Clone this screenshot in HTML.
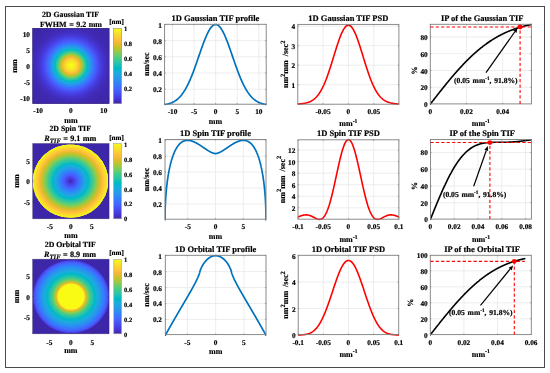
<!DOCTYPE html><html><head><meta charset="utf-8"><title>TIF figure</title><style>html,body{margin:0;padding:0;background:#fff;width:550px;height:373px;overflow:hidden;}text{text-rendering:geometricPrecision;font-family:'Liberation Serif',serif;font-weight:bold;stroke:#000;stroke-width:0.18px;}</style></head><body><svg width="550" height="373" viewBox="0 0 550 373" style="display:block;will-change:transform;font-family:'Liberation Serif',serif;font-weight:bold" fill="#000"><defs>
<radialGradient id="g1" gradientUnits="userSpaceOnUse" cx="0" cy="0" r="20" gradientTransform="translate(71.1 65.5) scale(3.406 3.3280000000000003)"><stop offset="0.0000" stop-color="#f9fb15"/><stop offset="0.0084" stop-color="#f9fb15"/><stop offset="0.0168" stop-color="#f9fa16"/><stop offset="0.0252" stop-color="#f8f818"/><stop offset="0.0336" stop-color="#f7f51b"/><stop offset="0.0420" stop-color="#f6f21d"/><stop offset="0.0504" stop-color="#f5ef21"/><stop offset="0.0588" stop-color="#f5ea23"/><stop offset="0.0672" stop-color="#f5e526"/><stop offset="0.0756" stop-color="#f6df29"/><stop offset="0.0840" stop-color="#f8d92c"/><stop offset="0.0924" stop-color="#fbd22f"/><stop offset="0.1008" stop-color="#feca33"/><stop offset="0.1092" stop-color="#fec339"/><stop offset="0.1176" stop-color="#fbbc3d"/><stop offset="0.1261" stop-color="#f1ba37"/><stop offset="0.1345" stop-color="#e3bb2c"/><stop offset="0.1429" stop-color="#d4bf27"/><stop offset="0.1513" stop-color="#c1c32c"/><stop offset="0.1597" stop-color="#adc638"/><stop offset="0.1681" stop-color="#96ca48"/><stop offset="0.1765" stop-color="#7fcc5a"/><stop offset="0.1849" stop-color="#67cd6c"/><stop offset="0.1933" stop-color="#52cc7e"/><stop offset="0.2017" stop-color="#3fca8e"/><stop offset="0.2101" stop-color="#33c79d"/><stop offset="0.2185" stop-color="#29c3a9"/><stop offset="0.2269" stop-color="#1abfb5"/><stop offset="0.2353" stop-color="#06bcc0"/><stop offset="0.2437" stop-color="#01b7ca"/><stop offset="0.2521" stop-color="#0eb3d4"/><stop offset="0.2605" stop-color="#19addc"/><stop offset="0.2689" stop-color="#1ea7e1"/><stop offset="0.2773" stop-color="#23a0e5"/><stop offset="0.2857" stop-color="#2699e9"/><stop offset="0.2941" stop-color="#2a93ee"/><stop offset="0.3025" stop-color="#2d8cf3"/><stop offset="0.3109" stop-color="#2e86f8"/><stop offset="0.3193" stop-color="#307ffb"/><stop offset="0.3277" stop-color="#3678fd"/><stop offset="0.3361" stop-color="#3c71ff"/><stop offset="0.3445" stop-color="#416bfe"/><stop offset="0.3529" stop-color="#4465fd"/><stop offset="0.3613" stop-color="#4660fb"/><stop offset="0.3697" stop-color="#475bf9"/><stop offset="0.3782" stop-color="#4756f7"/><stop offset="0.3866" stop-color="#4852f4"/><stop offset="0.3950" stop-color="#484ef1"/><stop offset="0.4034" stop-color="#484aed"/><stop offset="0.4118" stop-color="#4746ea"/><stop offset="0.4202" stop-color="#4743e7"/><stop offset="0.4286" stop-color="#473fe3"/><stop offset="0.4370" stop-color="#463ddf"/><stop offset="0.4454" stop-color="#463adb"/><stop offset="0.4538" stop-color="#4538d7"/><stop offset="0.4622" stop-color="#4536d4"/><stop offset="0.4706" stop-color="#4434d0"/><stop offset="0.4790" stop-color="#4433cc"/><stop offset="0.4874" stop-color="#4332c9"/><stop offset="0.4958" stop-color="#4330c5"/><stop offset="0.5042" stop-color="#422fc2"/><stop offset="0.5126" stop-color="#422ec0"/><stop offset="0.5210" stop-color="#412dbd"/><stop offset="0.5294" stop-color="#412dbb"/><stop offset="0.5378" stop-color="#412cb9"/><stop offset="0.5462" stop-color="#402bb7"/><stop offset="0.5546" stop-color="#402bb6"/><stop offset="0.5630" stop-color="#402ab4"/><stop offset="0.5714" stop-color="#402ab3"/><stop offset="0.5798" stop-color="#3f29b2"/><stop offset="0.5882" stop-color="#3f29b1"/><stop offset="0.5966" stop-color="#3f29b0"/><stop offset="0.6050" stop-color="#3f28af"/><stop offset="0.6134" stop-color="#3f28ae"/><stop offset="0.6218" stop-color="#3f28ad"/><stop offset="0.6303" stop-color="#3e28ad"/><stop offset="0.6387" stop-color="#3e27ac"/><stop offset="0.6471" stop-color="#3e27ac"/><stop offset="0.6555" stop-color="#3e27ab"/><stop offset="0.6639" stop-color="#3e27ab"/><stop offset="0.6723" stop-color="#3e27aa"/><stop offset="0.6807" stop-color="#3e27aa"/><stop offset="0.6891" stop-color="#3e27aa"/><stop offset="0.6975" stop-color="#3e27aa"/><stop offset="0.7059" stop-color="#3e27a9"/><stop offset="0.7143" stop-color="#3e27a9"/><stop offset="0.7227" stop-color="#3e27a9"/><stop offset="0.7311" stop-color="#3e27a9"/><stop offset="0.7395" stop-color="#3e27a9"/><stop offset="0.7479" stop-color="#3e27a9"/><stop offset="0.7563" stop-color="#3e26a9"/><stop offset="0.7647" stop-color="#3e26a9"/><stop offset="0.7731" stop-color="#3e26a9"/><stop offset="0.7815" stop-color="#3e26a9"/><stop offset="0.7899" stop-color="#3e26a9"/><stop offset="0.7983" stop-color="#3e26a9"/><stop offset="0.8067" stop-color="#3e26a9"/><stop offset="0.8151" stop-color="#3e26a9"/><stop offset="0.8235" stop-color="#3e26a8"/><stop offset="0.8319" stop-color="#3e26a8"/><stop offset="0.8403" stop-color="#3e26a8"/><stop offset="0.8487" stop-color="#3e26a8"/><stop offset="0.8571" stop-color="#3e26a8"/><stop offset="0.8655" stop-color="#3e26a8"/><stop offset="0.8739" stop-color="#3e26a8"/><stop offset="0.8824" stop-color="#3e26a8"/><stop offset="0.8908" stop-color="#3e26a8"/><stop offset="0.8992" stop-color="#3e26a8"/><stop offset="0.9076" stop-color="#3e26a8"/><stop offset="0.9160" stop-color="#3e26a8"/><stop offset="0.9244" stop-color="#3e26a8"/><stop offset="0.9328" stop-color="#3e26a8"/><stop offset="0.9412" stop-color="#3e26a8"/><stop offset="0.9496" stop-color="#3e26a8"/><stop offset="0.9580" stop-color="#3e26a8"/><stop offset="0.9664" stop-color="#3e26a8"/><stop offset="0.9748" stop-color="#3e26a8"/><stop offset="0.9832" stop-color="#3e26a8"/><stop offset="0.9916" stop-color="#3e26a8"/><stop offset="1.0000" stop-color="#3e26a8"/></radialGradient>
<radialGradient id="g5" gradientUnits="userSpaceOnUse" cx="0" cy="0" r="14" gradientTransform="translate(70.5 181.15) scale(4.175824175824176 4.054945054945055)"><stop offset="0.0000" stop-color="#3e26a8"/><stop offset="0.0084" stop-color="#3f29b2"/><stop offset="0.0168" stop-color="#412dbb"/><stop offset="0.0252" stop-color="#4330c5"/><stop offset="0.0336" stop-color="#4434cd"/><stop offset="0.0420" stop-color="#4537d6"/><stop offset="0.0504" stop-color="#463bdd"/><stop offset="0.0588" stop-color="#4740e3"/><stop offset="0.0672" stop-color="#4744e8"/><stop offset="0.0756" stop-color="#4849ed"/><stop offset="0.0840" stop-color="#484df1"/><stop offset="0.0924" stop-color="#4852f4"/><stop offset="0.1008" stop-color="#4757f7"/><stop offset="0.1092" stop-color="#475bf9"/><stop offset="0.1176" stop-color="#4660fb"/><stop offset="0.1261" stop-color="#4465fd"/><stop offset="0.1345" stop-color="#4269fe"/><stop offset="0.1429" stop-color="#3f6eff"/><stop offset="0.1513" stop-color="#3a73fe"/><stop offset="0.1597" stop-color="#3578fd"/><stop offset="0.1681" stop-color="#317dfc"/><stop offset="0.1765" stop-color="#2f82fa"/><stop offset="0.1849" stop-color="#2e86f7"/><stop offset="0.1933" stop-color="#2d8bf4"/><stop offset="0.2017" stop-color="#2c8ff1"/><stop offset="0.2101" stop-color="#2a93ed"/><stop offset="0.2185" stop-color="#2797ea"/><stop offset="0.2269" stop-color="#259be8"/><stop offset="0.2353" stop-color="#249fe5"/><stop offset="0.2437" stop-color="#21a3e3"/><stop offset="0.2521" stop-color="#1ea7e1"/><stop offset="0.2605" stop-color="#1baade"/><stop offset="0.2689" stop-color="#18aedb"/><stop offset="0.2773" stop-color="#12b1d7"/><stop offset="0.2857" stop-color="#0bb4d2"/><stop offset="0.2941" stop-color="#04b6cd"/><stop offset="0.3025" stop-color="#01b9c8"/><stop offset="0.3109" stop-color="#03bbc2"/><stop offset="0.3193" stop-color="#0bbdbd"/><stop offset="0.3277" stop-color="#15bfb7"/><stop offset="0.3361" stop-color="#1fc0b1"/><stop offset="0.3445" stop-color="#27c2ac"/><stop offset="0.3529" stop-color="#2dc4a6"/><stop offset="0.3613" stop-color="#32c69f"/><stop offset="0.3697" stop-color="#36c898"/><stop offset="0.3782" stop-color="#3cc991"/><stop offset="0.3866" stop-color="#44cb89"/><stop offset="0.3950" stop-color="#4ecc81"/><stop offset="0.4034" stop-color="#58cc79"/><stop offset="0.4118" stop-color="#63cd70"/><stop offset="0.4202" stop-color="#6ecd67"/><stop offset="0.4286" stop-color="#7acc5e"/><stop offset="0.4370" stop-color="#86cb55"/><stop offset="0.4454" stop-color="#92ca4c"/><stop offset="0.4538" stop-color="#9dc943"/><stop offset="0.4622" stop-color="#a9c73b"/><stop offset="0.4706" stop-color="#b3c534"/><stop offset="0.4790" stop-color="#bec32e"/><stop offset="0.4874" stop-color="#c8c129"/><stop offset="0.4958" stop-color="#d2bf27"/><stop offset="0.5042" stop-color="#dbbd28"/><stop offset="0.5126" stop-color="#e3bc2c"/><stop offset="0.5210" stop-color="#ebba31"/><stop offset="0.5294" stop-color="#f2ba38"/><stop offset="0.5378" stop-color="#f9bb3d"/><stop offset="0.5462" stop-color="#febd3c"/><stop offset="0.5546" stop-color="#fec239"/><stop offset="0.5630" stop-color="#fec736"/><stop offset="0.5714" stop-color="#fdcc32"/><stop offset="0.5798" stop-color="#fcd12f"/><stop offset="0.5882" stop-color="#fad62d"/><stop offset="0.5966" stop-color="#f7db2a"/><stop offset="0.6050" stop-color="#f6e028"/><stop offset="0.6134" stop-color="#f5e626"/><stop offset="0.6218" stop-color="#f5eb23"/><stop offset="0.6303" stop-color="#f6f020"/><stop offset="0.6387" stop-color="#f7f41c"/><stop offset="0.6471" stop-color="#f9f916"/><stop offset="0.6499" stop-color="#f9fb15"/><stop offset="0.6501" stop-color="#3e26a8"/><stop offset="0.6555" stop-color="#3e26a8"/><stop offset="0.6639" stop-color="#3e26a8"/><stop offset="0.6723" stop-color="#3e26a8"/><stop offset="0.6807" stop-color="#3e26a8"/><stop offset="0.6891" stop-color="#3e26a8"/><stop offset="0.6975" stop-color="#3e26a8"/><stop offset="0.7059" stop-color="#3e26a8"/><stop offset="0.7143" stop-color="#3e26a8"/><stop offset="0.7227" stop-color="#3e26a8"/><stop offset="0.7311" stop-color="#3e26a8"/><stop offset="0.7395" stop-color="#3e26a8"/><stop offset="0.7479" stop-color="#3e26a8"/><stop offset="0.7563" stop-color="#3e26a8"/><stop offset="0.7647" stop-color="#3e26a8"/><stop offset="0.7731" stop-color="#3e26a8"/><stop offset="0.7815" stop-color="#3e26a8"/><stop offset="0.7899" stop-color="#3e26a8"/><stop offset="0.7983" stop-color="#3e26a8"/><stop offset="0.8067" stop-color="#3e26a8"/><stop offset="0.8151" stop-color="#3e26a8"/><stop offset="0.8235" stop-color="#3e26a8"/><stop offset="0.8319" stop-color="#3e26a8"/><stop offset="0.8403" stop-color="#3e26a8"/><stop offset="0.8487" stop-color="#3e26a8"/><stop offset="0.8571" stop-color="#3e26a8"/><stop offset="0.8655" stop-color="#3e26a8"/><stop offset="0.8739" stop-color="#3e26a8"/><stop offset="0.8824" stop-color="#3e26a8"/><stop offset="0.8908" stop-color="#3e26a8"/><stop offset="0.8992" stop-color="#3e26a8"/><stop offset="0.9076" stop-color="#3e26a8"/><stop offset="0.9160" stop-color="#3e26a8"/><stop offset="0.9244" stop-color="#3e26a8"/><stop offset="0.9328" stop-color="#3e26a8"/><stop offset="0.9412" stop-color="#3e26a8"/><stop offset="0.9496" stop-color="#3e26a8"/><stop offset="0.9580" stop-color="#3e26a8"/><stop offset="0.9664" stop-color="#3e26a8"/><stop offset="0.9748" stop-color="#3e26a8"/><stop offset="0.9832" stop-color="#3e26a8"/><stop offset="0.9916" stop-color="#3e26a8"/><stop offset="1.0000" stop-color="#3e26a8"/></radialGradient>
<radialGradient id="g9" gradientUnits="userSpaceOnUse" cx="0" cy="0" r="14" gradientTransform="translate(71.1 296.7) scale(4.3 4.12)"><stop offset="0.0000" stop-color="#f9fb15"/><stop offset="0.0084" stop-color="#f9fb15"/><stop offset="0.0168" stop-color="#f9fb15"/><stop offset="0.0252" stop-color="#f9fb15"/><stop offset="0.0336" stop-color="#f9fb15"/><stop offset="0.0420" stop-color="#f9fb15"/><stop offset="0.0504" stop-color="#f9fb15"/><stop offset="0.0588" stop-color="#f9fb15"/><stop offset="0.0672" stop-color="#f9fb15"/><stop offset="0.0756" stop-color="#f9fb15"/><stop offset="0.0840" stop-color="#f9fb15"/><stop offset="0.0924" stop-color="#f9fb15"/><stop offset="0.1008" stop-color="#f9fb15"/><stop offset="0.1092" stop-color="#f9fb15"/><stop offset="0.1176" stop-color="#f9fb15"/><stop offset="0.1261" stop-color="#f9fb15"/><stop offset="0.1345" stop-color="#f9fb15"/><stop offset="0.1429" stop-color="#f9fb15"/><stop offset="0.1513" stop-color="#f9fb15"/><stop offset="0.1597" stop-color="#f9fb15"/><stop offset="0.1681" stop-color="#f9fb15"/><stop offset="0.1765" stop-color="#f9fb15"/><stop offset="0.1849" stop-color="#f9fb15"/><stop offset="0.1933" stop-color="#f9fb15"/><stop offset="0.2017" stop-color="#f9fb15"/><stop offset="0.2101" stop-color="#f9fb15"/><stop offset="0.2185" stop-color="#f9fb15"/><stop offset="0.2269" stop-color="#fbd32e"/><stop offset="0.2353" stop-color="#fdbd3d"/><stop offset="0.2437" stop-color="#e9bb30"/><stop offset="0.2521" stop-color="#d3bf27"/><stop offset="0.2605" stop-color="#bdc32e"/><stop offset="0.2689" stop-color="#a8c73b"/><stop offset="0.2773" stop-color="#94ca4a"/><stop offset="0.2857" stop-color="#80cc59"/><stop offset="0.2941" stop-color="#6ecd66"/><stop offset="0.3025" stop-color="#5fcd73"/><stop offset="0.3109" stop-color="#51cc7f"/><stop offset="0.3193" stop-color="#44cb89"/><stop offset="0.3277" stop-color="#3bc993"/><stop offset="0.3361" stop-color="#34c79b"/><stop offset="0.3445" stop-color="#2fc5a2"/><stop offset="0.3529" stop-color="#2ac3a9"/><stop offset="0.3613" stop-color="#22c1af"/><stop offset="0.3697" stop-color="#19bfb5"/><stop offset="0.3782" stop-color="#0ebdbb"/><stop offset="0.3866" stop-color="#06bcc1"/><stop offset="0.3950" stop-color="#01b9c6"/><stop offset="0.4034" stop-color="#02b7cb"/><stop offset="0.4118" stop-color="#07b5d0"/><stop offset="0.4202" stop-color="#0eb2d4"/><stop offset="0.4286" stop-color="#14b0d8"/><stop offset="0.4370" stop-color="#19addc"/><stop offset="0.4454" stop-color="#1caadf"/><stop offset="0.4538" stop-color="#1ea7e1"/><stop offset="0.4622" stop-color="#21a3e3"/><stop offset="0.4706" stop-color="#23a0e5"/><stop offset="0.4790" stop-color="#259ce7"/><stop offset="0.4874" stop-color="#2699e9"/><stop offset="0.4958" stop-color="#2895ec"/><stop offset="0.5042" stop-color="#2b91ef"/><stop offset="0.5126" stop-color="#2d8df2"/><stop offset="0.5210" stop-color="#2d89f5"/><stop offset="0.5294" stop-color="#2e85f8"/><stop offset="0.5378" stop-color="#2f81fa"/><stop offset="0.5462" stop-color="#327cfc"/><stop offset="0.5546" stop-color="#3777fe"/><stop offset="0.5630" stop-color="#3c71ff"/><stop offset="0.5714" stop-color="#416cfe"/><stop offset="0.5798" stop-color="#4466fd"/><stop offset="0.5882" stop-color="#4660fb"/><stop offset="0.5966" stop-color="#475af9"/><stop offset="0.6050" stop-color="#4853f5"/><stop offset="0.6134" stop-color="#484bef"/><stop offset="0.6218" stop-color="#4742e6"/><stop offset="0.6303" stop-color="#4536d3"/><stop offset="0.6387" stop-color="#3e26a8"/><stop offset="0.6471" stop-color="#3e26a8"/><stop offset="0.6555" stop-color="#3e26a8"/><stop offset="0.6639" stop-color="#3e26a8"/><stop offset="0.6723" stop-color="#3e26a8"/><stop offset="0.6807" stop-color="#3e26a8"/><stop offset="0.6891" stop-color="#3e26a8"/><stop offset="0.6975" stop-color="#3e26a8"/><stop offset="0.7059" stop-color="#3e26a8"/><stop offset="0.7143" stop-color="#3e26a8"/><stop offset="0.7227" stop-color="#3e26a8"/><stop offset="0.7311" stop-color="#3e26a8"/><stop offset="0.7395" stop-color="#3e26a8"/><stop offset="0.7479" stop-color="#3e26a8"/><stop offset="0.7563" stop-color="#3e26a8"/><stop offset="0.7647" stop-color="#3e26a8"/><stop offset="0.7731" stop-color="#3e26a8"/><stop offset="0.7815" stop-color="#3e26a8"/><stop offset="0.7899" stop-color="#3e26a8"/><stop offset="0.7983" stop-color="#3e26a8"/><stop offset="0.8067" stop-color="#3e26a8"/><stop offset="0.8151" stop-color="#3e26a8"/><stop offset="0.8235" stop-color="#3e26a8"/><stop offset="0.8319" stop-color="#3e26a8"/><stop offset="0.8403" stop-color="#3e26a8"/><stop offset="0.8487" stop-color="#3e26a8"/><stop offset="0.8571" stop-color="#3e26a8"/><stop offset="0.8655" stop-color="#3e26a8"/><stop offset="0.8739" stop-color="#3e26a8"/><stop offset="0.8824" stop-color="#3e26a8"/><stop offset="0.8908" stop-color="#3e26a8"/><stop offset="0.8992" stop-color="#3e26a8"/><stop offset="0.9076" stop-color="#3e26a8"/><stop offset="0.9160" stop-color="#3e26a8"/><stop offset="0.9244" stop-color="#3e26a8"/><stop offset="0.9328" stop-color="#3e26a8"/><stop offset="0.9412" stop-color="#3e26a8"/><stop offset="0.9496" stop-color="#3e26a8"/><stop offset="0.9580" stop-color="#3e26a8"/><stop offset="0.9664" stop-color="#3e26a8"/><stop offset="0.9748" stop-color="#3e26a8"/><stop offset="0.9832" stop-color="#3e26a8"/><stop offset="0.9916" stop-color="#3e26a8"/><stop offset="1.0000" stop-color="#3e26a8"/></radialGradient>
</defs>
<rect x="32.6" y="28.3" width="76.6" height="75.3" fill="url(#g1)"/>
<linearGradient id="cb1" x1="0" y1="0" x2="0" y2="1"><stop offset="0.000" stop-color="#f9fb15"/><stop offset="0.016" stop-color="#f7f51b"/><stop offset="0.031" stop-color="#f6ef20"/><stop offset="0.047" stop-color="#f5e924"/><stop offset="0.062" stop-color="#f5e327"/><stop offset="0.078" stop-color="#f7dd2a"/><stop offset="0.094" stop-color="#f9d62d"/><stop offset="0.109" stop-color="#fcd030"/><stop offset="0.125" stop-color="#feca33"/><stop offset="0.141" stop-color="#fec437"/><stop offset="0.156" stop-color="#febe3c"/><stop offset="0.172" stop-color="#f9bb3d"/><stop offset="0.188" stop-color="#f1ba37"/><stop offset="0.203" stop-color="#e8bb2f"/><stop offset="0.219" stop-color="#debc2a"/><stop offset="0.234" stop-color="#d4bf28"/><stop offset="0.250" stop-color="#c8c129"/><stop offset="0.266" stop-color="#bcc42f"/><stop offset="0.281" stop-color="#afc637"/><stop offset="0.297" stop-color="#a2c840"/><stop offset="0.312" stop-color="#94ca4a"/><stop offset="0.328" stop-color="#85cb55"/><stop offset="0.344" stop-color="#77cc60"/><stop offset="0.359" stop-color="#69cd6b"/><stop offset="0.375" stop-color="#5ccc76"/><stop offset="0.391" stop-color="#4fcc80"/><stop offset="0.406" stop-color="#44ca8a"/><stop offset="0.422" stop-color="#3ac993"/><stop offset="0.438" stop-color="#34c79c"/><stop offset="0.453" stop-color="#2ec5a4"/><stop offset="0.469" stop-color="#28c2ab"/><stop offset="0.484" stop-color="#1ec0b2"/><stop offset="0.500" stop-color="#12beb9"/><stop offset="0.516" stop-color="#07bcc0"/><stop offset="0.531" stop-color="#01b9c6"/><stop offset="0.547" stop-color="#04b6cd"/><stop offset="0.562" stop-color="#0cb3d3"/><stop offset="0.578" stop-color="#14b0d8"/><stop offset="0.594" stop-color="#1aacdd"/><stop offset="0.609" stop-color="#1ea7e1"/><stop offset="0.625" stop-color="#21a3e3"/><stop offset="0.641" stop-color="#249ee6"/><stop offset="0.656" stop-color="#269ae9"/><stop offset="0.672" stop-color="#2895ec"/><stop offset="0.688" stop-color="#2c90f0"/><stop offset="0.703" stop-color="#2d8bf4"/><stop offset="0.719" stop-color="#2e85f8"/><stop offset="0.734" stop-color="#3080fa"/><stop offset="0.750" stop-color="#347afd"/><stop offset="0.766" stop-color="#3a74fe"/><stop offset="0.781" stop-color="#3f6efe"/><stop offset="0.797" stop-color="#4368fe"/><stop offset="0.812" stop-color="#4562fc"/><stop offset="0.828" stop-color="#475dfa"/><stop offset="0.844" stop-color="#4757f7"/><stop offset="0.859" stop-color="#4852f4"/><stop offset="0.875" stop-color="#484cef"/><stop offset="0.891" stop-color="#4746ea"/><stop offset="0.906" stop-color="#4741e5"/><stop offset="0.922" stop-color="#463bdd"/><stop offset="0.938" stop-color="#4536d5"/><stop offset="0.953" stop-color="#4332ca"/><stop offset="0.969" stop-color="#422ebf"/><stop offset="0.984" stop-color="#402ab4"/><stop offset="1.000" stop-color="#3e26a8"/></linearGradient>
<rect x="113.3" y="28.3" width="8.30" height="75.30" fill="url(#cb1)" stroke="#a0a0a0" stroke-width="0.6"/>
<rect x="5.5" y="6.5" width="539" height="361" fill="none" stroke="#4a4a4a" stroke-width="1"/>
<rect x="32.6" y="28.3" width="76.60" height="75.30" fill="url(#g1)"/>
<text x="38.15" y="112.90" font-size="7.3" text-anchor="middle">-10</text>
<text x="70.90" y="112.90" font-size="7.3" text-anchor="middle">0</text>
<text x="103.65" y="112.90" font-size="7.3" text-anchor="middle">10</text>
<text x="30.00" y="37.00" font-size="7.3" text-anchor="end">10</text>
<text x="30.00" y="53.00" font-size="7.3" text-anchor="end">5</text>
<text x="30.00" y="69.00" font-size="7.3" text-anchor="end">0</text>
<text x="30.00" y="85.00" font-size="7.3" text-anchor="end">-5</text>
<text x="30.00" y="101.00" font-size="7.3" text-anchor="end">-10</text>
<line x1="38.15" y1="103.6" x2="38.15" y2="102.39999999999999" stroke="#222" stroke-width="0.6" opacity="0.6"/>
<line x1="38.15" y1="28.3" x2="38.15" y2="29.5" stroke="#222" stroke-width="0.6" opacity="0.6"/>
<line x1="70.90" y1="103.6" x2="70.90" y2="102.39999999999999" stroke="#222" stroke-width="0.6" opacity="0.6"/>
<line x1="70.90" y1="28.3" x2="70.90" y2="29.5" stroke="#222" stroke-width="0.6" opacity="0.6"/>
<line x1="103.65" y1="103.6" x2="103.65" y2="102.39999999999999" stroke="#222" stroke-width="0.6" opacity="0.6"/>
<line x1="103.65" y1="28.3" x2="103.65" y2="29.5" stroke="#222" stroke-width="0.6" opacity="0.6"/>
<line x1="32.6" y1="34.00" x2="33.800000000000004" y2="34.00" stroke="#222" stroke-width="0.6" opacity="0.6"/>
<line x1="109.2" y1="34.00" x2="108.0" y2="34.00" stroke="#222" stroke-width="0.6" opacity="0.6"/>
<line x1="32.6" y1="50.00" x2="33.800000000000004" y2="50.00" stroke="#222" stroke-width="0.6" opacity="0.6"/>
<line x1="109.2" y1="50.00" x2="108.0" y2="50.00" stroke="#222" stroke-width="0.6" opacity="0.6"/>
<line x1="32.6" y1="66.00" x2="33.800000000000004" y2="66.00" stroke="#222" stroke-width="0.6" opacity="0.6"/>
<line x1="109.2" y1="66.00" x2="108.0" y2="66.00" stroke="#222" stroke-width="0.6" opacity="0.6"/>
<line x1="32.6" y1="82.00" x2="33.800000000000004" y2="82.00" stroke="#222" stroke-width="0.6" opacity="0.6"/>
<line x1="109.2" y1="82.00" x2="108.0" y2="82.00" stroke="#222" stroke-width="0.6" opacity="0.6"/>
<line x1="32.6" y1="98.00" x2="33.800000000000004" y2="98.00" stroke="#222" stroke-width="0.6" opacity="0.6"/>
<line x1="109.2" y1="98.00" x2="108.0" y2="98.00" stroke="#222" stroke-width="0.6" opacity="0.6"/>
<rect x="32.6" y="28.3" width="76.60" height="75.30" fill="none" stroke="#1a1a40" stroke-width="0.6" opacity="0.5"/>
<linearGradient id="g1cb" x1="0" y1="0" x2="0" y2="1"><stop offset="0.000" stop-color="#f9fb15"/><stop offset="0.016" stop-color="#f7f51b"/><stop offset="0.031" stop-color="#f6ef20"/><stop offset="0.047" stop-color="#f5e924"/><stop offset="0.062" stop-color="#f5e327"/><stop offset="0.078" stop-color="#f7dd2a"/><stop offset="0.094" stop-color="#f9d62d"/><stop offset="0.109" stop-color="#fcd030"/><stop offset="0.125" stop-color="#feca33"/><stop offset="0.141" stop-color="#fec437"/><stop offset="0.156" stop-color="#febe3c"/><stop offset="0.172" stop-color="#f9bb3d"/><stop offset="0.188" stop-color="#f1ba37"/><stop offset="0.203" stop-color="#e8bb2f"/><stop offset="0.219" stop-color="#debc2a"/><stop offset="0.234" stop-color="#d4bf28"/><stop offset="0.250" stop-color="#c8c129"/><stop offset="0.266" stop-color="#bcc42f"/><stop offset="0.281" stop-color="#afc637"/><stop offset="0.297" stop-color="#a2c840"/><stop offset="0.312" stop-color="#94ca4a"/><stop offset="0.328" stop-color="#85cb55"/><stop offset="0.344" stop-color="#77cc60"/><stop offset="0.359" stop-color="#69cd6b"/><stop offset="0.375" stop-color="#5ccc76"/><stop offset="0.391" stop-color="#4fcc80"/><stop offset="0.406" stop-color="#44ca8a"/><stop offset="0.422" stop-color="#3ac993"/><stop offset="0.438" stop-color="#34c79c"/><stop offset="0.453" stop-color="#2ec5a4"/><stop offset="0.469" stop-color="#28c2ab"/><stop offset="0.484" stop-color="#1ec0b2"/><stop offset="0.500" stop-color="#12beb9"/><stop offset="0.516" stop-color="#07bcc0"/><stop offset="0.531" stop-color="#01b9c6"/><stop offset="0.547" stop-color="#04b6cd"/><stop offset="0.562" stop-color="#0cb3d3"/><stop offset="0.578" stop-color="#14b0d8"/><stop offset="0.594" stop-color="#1aacdd"/><stop offset="0.609" stop-color="#1ea7e1"/><stop offset="0.625" stop-color="#21a3e3"/><stop offset="0.641" stop-color="#249ee6"/><stop offset="0.656" stop-color="#269ae9"/><stop offset="0.672" stop-color="#2895ec"/><stop offset="0.688" stop-color="#2c90f0"/><stop offset="0.703" stop-color="#2d8bf4"/><stop offset="0.719" stop-color="#2e85f8"/><stop offset="0.734" stop-color="#3080fa"/><stop offset="0.750" stop-color="#347afd"/><stop offset="0.766" stop-color="#3a74fe"/><stop offset="0.781" stop-color="#3f6efe"/><stop offset="0.797" stop-color="#4368fe"/><stop offset="0.812" stop-color="#4562fc"/><stop offset="0.828" stop-color="#475dfa"/><stop offset="0.844" stop-color="#4757f7"/><stop offset="0.859" stop-color="#4852f4"/><stop offset="0.875" stop-color="#484cef"/><stop offset="0.891" stop-color="#4746ea"/><stop offset="0.906" stop-color="#4741e5"/><stop offset="0.922" stop-color="#463bdd"/><stop offset="0.938" stop-color="#4536d5"/><stop offset="0.953" stop-color="#4332ca"/><stop offset="0.969" stop-color="#422ebf"/><stop offset="0.984" stop-color="#402ab4"/><stop offset="1.000" stop-color="#3e26a8"/></linearGradient>
<rect x="113.6" y="28.3" width="7.70" height="75.30" fill="url(#g1cb)" stroke="#a0a0a0" stroke-width="0.6"/>
<text x="123.90" y="91.40" font-size="6.5" text-anchor="start">0.2</text>
<text x="123.90" y="76.40" font-size="6.5" text-anchor="start">0.4</text>
<text x="123.90" y="61.40" font-size="6.5" text-anchor="start">0.6</text>
<text x="123.90" y="46.40" font-size="6.5" text-anchor="start">0.8</text>
<text x="123.90" y="31.40" font-size="6.5" text-anchor="start">1</text>
<text x="116.50" y="23.90" font-size="7.1" text-anchor="middle">[nm]</text>
<text x="70.90" y="122.90" font-size="8.0" text-anchor="middle">mm</text>
<text x="16.60" y="66.00" font-size="8.0" text-anchor="middle" transform="rotate(-90 16.60 66.00)">mm</text>
<text x="70.50" y="16.90" font-size="7.8" text-anchor="middle">2D Gaussian TIF</text>
<text x="71.0" y="27.1" font-size="8.0" text-anchor="middle" word-spacing="0.5">FWHM = 9.2 mm</text>
<line x1="172.50" y1="24.3" x2="172.50" y2="104.2" stroke="#e8e8e8" stroke-width="0.8"/>
<line x1="194.07" y1="24.3" x2="194.07" y2="104.2" stroke="#e8e8e8" stroke-width="0.8"/>
<line x1="215.65" y1="24.3" x2="215.65" y2="104.2" stroke="#e8e8e8" stroke-width="0.8"/>
<line x1="237.23" y1="24.3" x2="237.23" y2="104.2" stroke="#e8e8e8" stroke-width="0.8"/>
<line x1="258.80" y1="24.3" x2="258.80" y2="104.2" stroke="#e8e8e8" stroke-width="0.8"/>
<line x1="164.6" y1="89.22" x2="266.2" y2="89.22" stroke="#e8e8e8" stroke-width="0.8"/>
<line x1="164.6" y1="73.04" x2="266.2" y2="73.04" stroke="#e8e8e8" stroke-width="0.8"/>
<line x1="164.6" y1="56.86" x2="266.2" y2="56.86" stroke="#e8e8e8" stroke-width="0.8"/>
<line x1="164.6" y1="40.68" x2="266.2" y2="40.68" stroke="#e8e8e8" stroke-width="0.8"/>
<clipPath id="c2"><rect x="164.29999999999998" y="22.3" width="102.19999999999999" height="83.4"/></clipPath>
<path d="M164.95,104.52 L165.63,104.41 L166.31,104.28 L166.98,104.15 L167.66,103.99 L168.34,103.82 L168.68,103.73 L169.02,103.64 L169.36,103.54 L169.70,103.43 L170.04,103.32 L170.37,103.20 L170.71,103.08 L171.05,102.95 L171.39,102.82 L171.73,102.68 L172.07,102.54 L172.41,102.38 L172.75,102.23 L173.09,102.06 L173.43,101.89 L173.77,101.71 L174.11,101.52 L174.44,101.32 L174.78,101.12 L175.12,100.90 L175.46,100.68 L175.80,100.45 L176.14,100.21 L176.48,99.96 L176.82,99.70 L177.16,99.43 L177.50,99.15 L177.84,98.86 L178.18,98.56 L178.51,98.25 L178.85,97.93 L179.19,97.59 L179.53,97.25 L179.87,96.89 L180.21,96.52 L180.55,96.14 L180.89,95.75 L181.23,95.34 L181.57,94.92 L181.91,94.49 L182.24,94.04 L182.58,93.58 L182.92,93.11 L183.26,92.62 L183.60,92.12 L183.94,91.61 L184.28,91.08 L184.62,90.53 L184.96,89.98 L185.30,89.40 L185.64,88.82 L185.98,88.22 L186.31,87.60 L186.65,86.97 L186.99,86.32 L187.33,85.66 L187.67,84.99 L188.01,84.30 L188.35,83.60 L188.69,82.88 L189.03,82.15 L189.37,81.40 L189.71,80.64 L190.05,79.87 L190.38,79.08 L190.72,78.28 L191.06,77.47 L191.40,76.65 L191.74,75.81 L192.08,74.96 L192.42,74.10 L192.76,73.22 L193.10,72.34 L193.44,71.44 L193.78,70.54 L194.11,69.62 L194.45,68.70 L194.79,67.77 L195.13,66.83 L195.47,65.88 L195.81,64.92 L196.15,63.96 L196.49,62.99 L196.83,62.02 L197.17,61.05 L197.51,60.07 L197.85,59.08 L198.18,58.10 L198.52,57.11 L198.86,56.13 L199.20,55.14 L199.54,54.15 L199.88,53.17 L200.22,52.19 L200.56,51.21 L200.90,50.24 L201.24,49.27 L201.58,48.30 L201.91,47.35 L202.25,46.40 L202.59,45.46 L202.93,44.53 L203.27,43.62 L203.61,42.71 L203.95,41.82 L204.29,40.93 L204.63,40.07 L204.97,39.22 L205.31,38.38 L205.65,37.56 L205.98,36.76 L206.32,35.98 L206.66,35.22 L207.00,34.47 L207.34,33.75 L207.68,33.05 L208.02,32.38 L208.36,31.72 L208.70,31.10 L209.04,30.49 L209.38,29.91 L209.72,29.36 L210.05,28.84 L210.39,28.34 L210.73,27.87 L211.07,27.43 L211.41,27.02 L211.75,26.64 L212.09,26.28 L212.43,25.96 L212.77,25.67 L213.11,25.42 L213.45,25.19 L213.78,24.99 L214.12,24.83 L214.46,24.70 L214.80,24.60 L215.48,24.50 L216.16,24.54 L216.84,24.70 L217.18,24.83 L217.52,24.99 L217.85,25.19 L218.19,25.42 L218.53,25.67 L218.87,25.96 L219.21,26.28 L219.55,26.64 L219.89,27.02 L220.23,27.43 L220.57,27.87 L220.91,28.34 L221.25,28.84 L221.58,29.36 L221.92,29.91 L222.26,30.49 L222.60,31.10 L222.94,31.72 L223.28,32.38 L223.62,33.05 L223.96,33.75 L224.30,34.47 L224.64,35.22 L224.98,35.98 L225.32,36.76 L225.65,37.56 L225.99,38.38 L226.33,39.22 L226.67,40.07 L227.01,40.93 L227.35,41.82 L227.69,42.71 L228.03,43.62 L228.37,44.53 L228.71,45.46 L229.05,46.40 L229.39,47.35 L229.72,48.30 L230.06,49.27 L230.40,50.24 L230.74,51.21 L231.08,52.19 L231.42,53.17 L231.76,54.15 L232.10,55.14 L232.44,56.13 L232.78,57.11 L233.12,58.10 L233.45,59.08 L233.79,60.07 L234.13,61.05 L234.47,62.02 L234.81,62.99 L235.15,63.96 L235.49,64.92 L235.83,65.88 L236.17,66.83 L236.51,67.77 L236.85,68.70 L237.19,69.62 L237.52,70.54 L237.86,71.44 L238.20,72.34 L238.54,73.22 L238.88,74.10 L239.22,74.96 L239.56,75.81 L239.90,76.65 L240.24,77.47 L240.58,78.28 L240.92,79.08 L241.25,79.87 L241.59,80.64 L241.93,81.40 L242.27,82.15 L242.61,82.88 L242.95,83.60 L243.29,84.30 L243.63,84.99 L243.97,85.66 L244.31,86.32 L244.65,86.97 L244.99,87.60 L245.32,88.22 L245.66,88.82 L246.00,89.40 L246.34,89.98 L246.68,90.53 L247.02,91.08 L247.36,91.61 L247.70,92.12 L248.04,92.62 L248.38,93.11 L248.72,93.58 L249.06,94.04 L249.39,94.49 L249.73,94.92 L250.07,95.34 L250.41,95.75 L250.75,96.14 L251.09,96.52 L251.43,96.89 L251.77,97.25 L252.11,97.59 L252.45,97.93 L252.79,98.25 L253.12,98.56 L253.46,98.86 L253.80,99.15 L254.14,99.43 L254.48,99.70 L254.82,99.96 L255.16,100.21 L255.50,100.45 L255.84,100.68 L256.18,100.90 L256.52,101.12 L256.86,101.32 L257.19,101.52 L257.53,101.71 L257.87,101.89 L258.21,102.06 L258.55,102.23 L258.89,102.38 L259.23,102.54 L259.57,102.68 L259.91,102.82 L260.25,102.95 L260.59,103.08 L260.93,103.20 L261.26,103.32 L261.60,103.43 L261.94,103.54 L262.28,103.64 L262.62,103.73 L262.96,103.82 L263.30,103.91 L263.98,104.07 L264.66,104.22 L265.33,104.35 L266.01,104.47 L266.35,104.52" fill="none" stroke="#0072bd" stroke-width="1.7" stroke-linejoin="round" stroke-linecap="round" clip-path="url(#c2)"/>
<rect x="164.6" y="24.3" width="101.60" height="79.90" fill="none" stroke="#7f7f7f" stroke-width="0.9"/>
<line x1="172.50" y1="104.2" x2="172.50" y2="103.2" stroke="#7f7f7f" stroke-width="0.8"/>
<line x1="172.50" y1="24.3" x2="172.50" y2="25.3" stroke="#7f7f7f" stroke-width="0.8"/>
<line x1="194.07" y1="104.2" x2="194.07" y2="103.2" stroke="#7f7f7f" stroke-width="0.8"/>
<line x1="194.07" y1="24.3" x2="194.07" y2="25.3" stroke="#7f7f7f" stroke-width="0.8"/>
<line x1="215.65" y1="104.2" x2="215.65" y2="103.2" stroke="#7f7f7f" stroke-width="0.8"/>
<line x1="215.65" y1="24.3" x2="215.65" y2="25.3" stroke="#7f7f7f" stroke-width="0.8"/>
<line x1="237.23" y1="104.2" x2="237.23" y2="103.2" stroke="#7f7f7f" stroke-width="0.8"/>
<line x1="237.23" y1="24.3" x2="237.23" y2="25.3" stroke="#7f7f7f" stroke-width="0.8"/>
<line x1="258.80" y1="104.2" x2="258.80" y2="103.2" stroke="#7f7f7f" stroke-width="0.8"/>
<line x1="258.80" y1="24.3" x2="258.80" y2="25.3" stroke="#7f7f7f" stroke-width="0.8"/>
<line x1="164.6" y1="89.22" x2="165.6" y2="89.22" stroke="#7f7f7f" stroke-width="0.8"/>
<line x1="266.2" y1="89.22" x2="265.2" y2="89.22" stroke="#7f7f7f" stroke-width="0.8"/>
<line x1="164.6" y1="73.04" x2="165.6" y2="73.04" stroke="#7f7f7f" stroke-width="0.8"/>
<line x1="266.2" y1="73.04" x2="265.2" y2="73.04" stroke="#7f7f7f" stroke-width="0.8"/>
<line x1="164.6" y1="56.86" x2="165.6" y2="56.86" stroke="#7f7f7f" stroke-width="0.8"/>
<line x1="266.2" y1="56.86" x2="265.2" y2="56.86" stroke="#7f7f7f" stroke-width="0.8"/>
<line x1="164.6" y1="40.68" x2="165.6" y2="40.68" stroke="#7f7f7f" stroke-width="0.8"/>
<line x1="266.2" y1="40.68" x2="265.2" y2="40.68" stroke="#7f7f7f" stroke-width="0.8"/>
<line x1="164.6" y1="24.50" x2="165.6" y2="24.50" stroke="#7f7f7f" stroke-width="0.8"/>
<line x1="266.2" y1="24.50" x2="265.2" y2="24.50" stroke="#7f7f7f" stroke-width="0.8"/>
<text x="172.50" y="113.60" font-size="7.3" text-anchor="middle">-10</text>
<text x="194.07" y="113.60" font-size="7.3" text-anchor="middle">-5</text>
<text x="215.65" y="113.60" font-size="7.3" text-anchor="middle">0</text>
<text x="237.23" y="113.60" font-size="7.3" text-anchor="middle">5</text>
<text x="258.80" y="113.60" font-size="7.3" text-anchor="middle">10</text>
<text x="162.00" y="92.22" font-size="7.3" text-anchor="end">0.2</text>
<text x="162.00" y="76.04" font-size="7.3" text-anchor="end">0.4</text>
<text x="162.00" y="59.86" font-size="7.3" text-anchor="end">0.6</text>
<text x="162.00" y="43.68" font-size="7.3" text-anchor="end">0.8</text>
<text x="162.00" y="27.50" font-size="7.3" text-anchor="end">1</text>
<text x="215.40" y="21.10" font-size="8.5" text-anchor="middle">1D Gaussian TIF profile</text>
<text x="215.40" y="123.50" font-size="8.0" text-anchor="middle">mm</text>
<text x="149.00" y="64.25" font-size="8.0" text-anchor="middle" transform="rotate(-90 149.00 64.25)">nm/sec</text>
<line x1="323.00" y1="24.4" x2="323.00" y2="104.2" stroke="#e8e8e8" stroke-width="0.8"/>
<line x1="348.40" y1="24.4" x2="348.40" y2="104.2" stroke="#e8e8e8" stroke-width="0.8"/>
<line x1="373.80" y1="24.4" x2="373.80" y2="104.2" stroke="#e8e8e8" stroke-width="0.8"/>
<line x1="297.8" y1="84.70" x2="398.9" y2="84.70" stroke="#e8e8e8" stroke-width="0.8"/>
<line x1="297.8" y1="65.20" x2="398.9" y2="65.20" stroke="#e8e8e8" stroke-width="0.8"/>
<line x1="297.8" y1="45.70" x2="398.9" y2="45.70" stroke="#e8e8e8" stroke-width="0.8"/>
<line x1="297.8" y1="26.20" x2="398.9" y2="26.20" stroke="#e8e8e8" stroke-width="0.8"/>
<clipPath id="c3"><rect x="297.5" y="22.4" width="101.69999999999996" height="83.30000000000001"/></clipPath>
<path d="M297.60,104.01 L298.11,103.98 L298.62,103.96 L299.12,103.93 L299.63,103.89 L300.14,103.86 L300.65,103.82 L301.16,103.77 L301.66,103.72 L302.17,103.66 L302.68,103.60 L303.19,103.53 L303.70,103.46 L304.20,103.37 L304.71,103.28 L305.22,103.18 L305.73,103.08 L306.24,102.96 L306.74,102.83 L307.25,102.68 L307.76,102.53 L308.27,102.36 L308.78,102.18 L309.28,101.98 L309.79,101.77 L310.30,101.54 L310.81,101.29 L311.32,101.02 L311.82,100.73 L312.33,100.41 L312.84,100.08 L313.35,99.72 L313.86,99.33 L314.36,98.92 L314.87,98.48 L315.38,98.01 L315.63,97.76 L315.89,97.51 L316.14,97.25 L316.40,96.98 L316.65,96.70 L316.90,96.41 L317.16,96.12 L317.41,95.81 L317.67,95.50 L317.92,95.18 L318.17,94.85 L318.43,94.51 L318.68,94.16 L318.94,93.80 L319.19,93.43 L319.44,93.05 L319.70,92.66 L319.95,92.27 L320.21,91.86 L320.46,91.44 L320.71,91.01 L320.97,90.57 L321.22,90.13 L321.48,89.67 L321.73,89.20 L321.98,88.72 L322.24,88.23 L322.49,87.73 L322.75,87.21 L323.00,86.69 L323.25,86.16 L323.51,85.62 L323.76,85.06 L324.02,84.50 L324.27,83.92 L324.52,83.34 L324.78,82.74 L325.03,82.13 L325.29,81.52 L325.54,80.89 L325.79,80.25 L326.05,79.61 L326.30,78.95 L326.56,78.28 L326.81,77.61 L327.06,76.92 L327.32,76.23 L327.57,75.52 L327.83,74.81 L328.08,74.09 L328.33,73.36 L328.59,72.62 L328.84,71.87 L329.10,71.12 L329.35,70.36 L329.60,69.59 L329.86,68.81 L330.11,68.03 L330.37,67.24 L330.62,66.45 L330.87,65.65 L331.13,64.85 L331.38,64.04 L331.64,63.23 L331.89,62.41 L332.14,61.59 L332.40,60.77 L332.65,59.94 L332.91,59.11 L333.16,58.28 L333.41,57.45 L333.67,56.62 L333.92,55.79 L334.18,54.96 L334.43,54.13 L334.68,53.30 L334.94,52.47 L335.19,51.65 L335.45,50.83 L335.70,50.01 L335.95,49.20 L336.21,48.39 L336.46,47.58 L336.72,46.78 L336.97,45.99 L337.22,45.20 L337.48,44.43 L337.73,43.66 L337.99,42.89 L338.24,42.14 L338.49,41.40 L338.75,40.66 L339.00,39.94 L339.26,39.23 L339.51,38.53 L339.76,37.85 L340.02,37.17 L340.27,36.51 L340.53,35.87 L340.78,35.24 L341.03,34.62 L341.29,34.02 L341.54,33.44 L341.80,32.87 L342.05,32.32 L342.30,31.79 L342.56,31.27 L342.81,30.78 L343.07,30.30 L343.32,29.84 L343.57,29.41 L343.83,28.99 L344.08,28.59 L344.34,28.21 L344.59,27.86 L344.84,27.52 L345.10,27.21 L345.35,26.92 L345.61,26.65 L345.86,26.41 L346.37,25.98 L346.88,25.65 L347.38,25.42 L347.89,25.27 L348.40,25.23 L348.91,25.27 L349.42,25.42 L349.92,25.65 L350.43,25.98 L350.94,26.41 L351.19,26.65 L351.45,26.92 L351.70,27.21 L351.96,27.52 L352.21,27.86 L352.46,28.21 L352.72,28.59 L352.97,28.99 L353.23,29.41 L353.48,29.84 L353.73,30.30 L353.99,30.78 L354.24,31.27 L354.50,31.79 L354.75,32.32 L355.00,32.87 L355.26,33.44 L355.51,34.02 L355.77,34.62 L356.02,35.24 L356.27,35.87 L356.53,36.51 L356.78,37.17 L357.04,37.85 L357.29,38.53 L357.54,39.23 L357.80,39.94 L358.05,40.66 L358.31,41.40 L358.56,42.14 L358.81,42.89 L359.07,43.66 L359.32,44.43 L359.58,45.20 L359.83,45.99 L360.08,46.78 L360.34,47.58 L360.59,48.39 L360.85,49.20 L361.10,50.01 L361.35,50.83 L361.61,51.65 L361.86,52.47 L362.12,53.30 L362.37,54.13 L362.62,54.96 L362.88,55.79 L363.13,56.62 L363.39,57.45 L363.64,58.28 L363.89,59.11 L364.15,59.94 L364.40,60.77 L364.66,61.59 L364.91,62.41 L365.16,63.23 L365.42,64.04 L365.67,64.85 L365.93,65.65 L366.18,66.45 L366.43,67.24 L366.69,68.03 L366.94,68.81 L367.20,69.59 L367.45,70.36 L367.70,71.12 L367.96,71.87 L368.21,72.62 L368.47,73.36 L368.72,74.09 L368.97,74.81 L369.23,75.52 L369.48,76.23 L369.74,76.92 L369.99,77.61 L370.24,78.28 L370.50,78.95 L370.75,79.61 L371.01,80.25 L371.26,80.89 L371.51,81.52 L371.77,82.13 L372.02,82.74 L372.28,83.34 L372.53,83.92 L372.78,84.50 L373.04,85.06 L373.29,85.62 L373.55,86.16 L373.80,86.69 L374.05,87.21 L374.31,87.73 L374.56,88.23 L374.82,88.72 L375.07,89.20 L375.32,89.67 L375.58,90.13 L375.83,90.57 L376.09,91.01 L376.34,91.44 L376.59,91.86 L376.85,92.27 L377.10,92.66 L377.36,93.05 L377.61,93.43 L377.86,93.80 L378.12,94.16 L378.37,94.51 L378.63,94.85 L378.88,95.18 L379.13,95.50 L379.39,95.81 L379.64,96.12 L379.90,96.41 L380.15,96.70 L380.40,96.98 L380.66,97.25 L380.91,97.51 L381.17,97.76 L381.42,98.01 L381.93,98.48 L382.44,98.92 L382.94,99.33 L383.45,99.72 L383.96,100.08 L384.47,100.41 L384.98,100.73 L385.48,101.02 L385.99,101.29 L386.50,101.54 L387.01,101.77 L387.52,101.98 L388.02,102.18 L388.53,102.36 L389.04,102.53 L389.55,102.68 L390.06,102.83 L390.56,102.96 L391.07,103.08 L391.58,103.18 L392.09,103.28 L392.60,103.37 L393.10,103.46 L393.61,103.53 L394.12,103.60 L394.63,103.66 L395.14,103.72 L395.64,103.77 L396.15,103.82 L396.66,103.86 L397.17,103.89 L397.68,103.93 L398.18,103.96 L398.69,103.98 L399.20,104.01" fill="none" stroke="#ff0000" stroke-width="1.6" stroke-linejoin="round" stroke-linecap="round" clip-path="url(#c3)"/>
<rect x="297.8" y="24.4" width="101.10" height="79.80" fill="none" stroke="#7f7f7f" stroke-width="0.9"/>
<line x1="323.00" y1="104.2" x2="323.00" y2="103.2" stroke="#7f7f7f" stroke-width="0.8"/>
<line x1="323.00" y1="24.4" x2="323.00" y2="25.4" stroke="#7f7f7f" stroke-width="0.8"/>
<line x1="348.40" y1="104.2" x2="348.40" y2="103.2" stroke="#7f7f7f" stroke-width="0.8"/>
<line x1="348.40" y1="24.4" x2="348.40" y2="25.4" stroke="#7f7f7f" stroke-width="0.8"/>
<line x1="373.80" y1="104.2" x2="373.80" y2="103.2" stroke="#7f7f7f" stroke-width="0.8"/>
<line x1="373.80" y1="24.4" x2="373.80" y2="25.4" stroke="#7f7f7f" stroke-width="0.8"/>
<line x1="297.8" y1="84.70" x2="298.8" y2="84.70" stroke="#7f7f7f" stroke-width="0.8"/>
<line x1="398.9" y1="84.70" x2="397.9" y2="84.70" stroke="#7f7f7f" stroke-width="0.8"/>
<line x1="297.8" y1="65.20" x2="298.8" y2="65.20" stroke="#7f7f7f" stroke-width="0.8"/>
<line x1="398.9" y1="65.20" x2="397.9" y2="65.20" stroke="#7f7f7f" stroke-width="0.8"/>
<line x1="297.8" y1="45.70" x2="298.8" y2="45.70" stroke="#7f7f7f" stroke-width="0.8"/>
<line x1="398.9" y1="45.70" x2="397.9" y2="45.70" stroke="#7f7f7f" stroke-width="0.8"/>
<line x1="297.8" y1="26.20" x2="298.8" y2="26.20" stroke="#7f7f7f" stroke-width="0.8"/>
<line x1="398.9" y1="26.20" x2="397.9" y2="26.20" stroke="#7f7f7f" stroke-width="0.8"/>
<text x="297.60" y="113.60" font-size="7.3" text-anchor="middle"></text>
<text x="323.00" y="113.60" font-size="7.3" text-anchor="middle">-0.05</text>
<text x="348.40" y="113.60" font-size="7.3" text-anchor="middle">0</text>
<text x="373.80" y="113.60" font-size="7.3" text-anchor="middle">0.05</text>
<text x="399.20" y="113.60" font-size="7.3" text-anchor="middle"></text>
<text x="295.20" y="87.70" font-size="7.3" text-anchor="end">1</text>
<text x="295.20" y="68.20" font-size="7.3" text-anchor="end">2</text>
<text x="295.20" y="48.70" font-size="7.3" text-anchor="end">3</text>
<text x="295.20" y="29.20" font-size="7.3" text-anchor="end">4</text>
<text x="348.35" y="21.10" font-size="8.5" text-anchor="middle">1D Gaussian TIF PSD</text>
<text x="348.35" y="126.20" font-size="8.0" text-anchor="middle">mm<tspan font-size="5.7" dy="-3.1">-1</tspan></text>
<text x="288.30" y="64.30" font-size="8.0" text-anchor="middle" xml:space="preserve" transform="rotate(-90 288.30 64.30)">nm<tspan font-size="6.5" dy="-3.5">2</tspan><tspan dy="3.5">mm  /sec</tspan><tspan font-size="6.5" dy="-3.5">2</tspan></text>
<line x1="466.50" y1="24.3" x2="466.50" y2="103.9" stroke="#e8e8e8" stroke-width="0.8"/>
<line x1="502.70" y1="24.3" x2="502.70" y2="103.9" stroke="#e8e8e8" stroke-width="0.8"/>
<line x1="430.3" y1="87.30" x2="531.4" y2="87.30" stroke="#e8e8e8" stroke-width="0.8"/>
<line x1="430.3" y1="70.50" x2="531.4" y2="70.50" stroke="#e8e8e8" stroke-width="0.8"/>
<line x1="430.3" y1="53.70" x2="531.4" y2="53.70" stroke="#e8e8e8" stroke-width="0.8"/>
<line x1="430.3" y1="36.90" x2="531.4" y2="36.90" stroke="#e8e8e8" stroke-width="0.8"/>
<clipPath id="c4"><rect x="430.0" y="22.3" width="101.69999999999996" height="83.10000000000001"/></clipPath>
<path d="M430.30,104.10 L430.66,103.63 L431.02,103.17 L431.39,102.70 L431.75,102.24 L432.11,101.77 L432.47,101.31 L432.83,100.84 L433.20,100.38 L433.56,99.91 L433.92,99.45 L434.28,98.99 L434.64,98.52 L435.01,98.06 L435.37,97.60 L435.73,97.13 L436.09,96.67 L436.45,96.21 L436.82,95.75 L437.18,95.28 L437.54,94.82 L437.90,94.36 L438.26,93.90 L438.63,93.44 L438.99,92.98 L439.35,92.52 L439.71,92.07 L440.07,91.61 L440.44,91.15 L440.80,90.70 L441.16,90.24 L441.52,89.78 L441.88,89.33 L442.25,88.88 L442.61,88.42 L442.97,87.97 L443.33,87.52 L443.69,87.07 L444.06,86.62 L444.42,86.17 L444.78,85.72 L445.14,85.28 L445.50,84.83 L445.87,84.38 L446.23,83.94 L446.59,83.50 L446.95,83.05 L447.31,82.61 L447.68,82.17 L448.04,81.73 L448.40,81.29 L448.76,80.85 L449.12,80.42 L449.49,79.98 L449.85,79.55 L450.21,79.11 L450.57,78.68 L450.93,78.25 L451.30,77.82 L451.66,77.39 L452.02,76.97 L452.38,76.54 L452.74,76.12 L453.11,75.69 L453.47,75.27 L453.83,74.85 L454.19,74.43 L454.55,74.01 L454.92,73.59 L455.28,73.18 L455.64,72.76 L456.00,72.35 L456.36,71.94 L456.73,71.53 L457.09,71.12 L457.45,70.71 L457.81,70.31 L458.17,69.90 L458.54,69.50 L458.90,69.10 L459.26,68.70 L459.62,68.30 L459.98,67.91 L460.35,67.51 L460.71,67.12 L461.07,66.73 L461.43,66.34 L461.79,65.95 L462.16,65.56 L462.52,65.18 L462.88,64.79 L463.24,64.41 L463.60,64.03 L463.97,63.65 L464.33,63.27 L464.69,62.90 L465.05,62.53 L465.41,62.15 L465.78,61.78 L466.14,61.42 L466.50,61.05 L466.86,60.68 L467.22,60.32 L467.59,59.96 L467.95,59.60 L468.31,59.24 L468.67,58.89 L469.03,58.53 L469.40,58.18 L469.76,57.83 L470.12,57.48 L470.48,57.13 L470.84,56.79 L471.21,56.45 L471.57,56.11 L471.93,55.77 L472.29,55.43 L472.65,55.09 L473.02,54.76 L473.38,54.43 L473.74,54.10 L474.10,53.77 L474.46,53.44 L474.83,53.12 L475.19,52.80 L475.55,52.48 L475.91,52.16 L476.27,51.84 L476.64,51.53 L477.00,51.22 L477.36,50.91 L477.72,50.60 L478.08,50.29 L478.45,49.99 L478.81,49.68 L479.17,49.38 L479.53,49.08 L479.89,48.79 L480.26,48.49 L480.62,48.20 L480.98,47.91 L481.34,47.62 L481.70,47.33 L482.07,47.04 L482.43,46.76 L482.79,46.48 L483.15,46.20 L483.51,45.92 L483.88,45.65 L484.24,45.37 L484.60,45.10 L484.96,44.83 L485.32,44.57 L485.69,44.30 L486.05,44.04 L486.41,43.77 L486.77,43.51 L487.13,43.26 L487.50,43.00 L487.86,42.75 L488.22,42.50 L488.58,42.24 L488.94,42.00 L489.31,41.75 L489.67,41.51 L490.03,41.26 L490.39,41.02 L490.75,40.78 L491.12,40.55 L491.48,40.31 L491.84,40.08 L492.20,39.85 L492.56,39.62 L492.93,39.39 L493.29,39.17 L493.65,38.94 L494.01,38.72 L494.37,38.50 L494.74,38.29 L495.10,38.07 L495.46,37.86 L495.82,37.64 L496.18,37.43 L496.55,37.23 L496.91,37.02 L497.27,36.81 L497.63,36.61 L497.99,36.41 L498.36,36.21 L498.72,36.01 L499.08,35.82 L499.44,35.62 L499.80,35.43 L500.17,35.24 L500.53,35.05 L500.89,34.86 L501.25,34.68 L501.61,34.50 L501.98,34.31 L502.34,34.13 L502.70,33.96 L503.06,33.78 L503.42,33.60 L503.79,33.43 L504.15,33.26 L504.51,33.09 L504.87,32.92 L505.23,32.75 L505.60,32.59 L505.96,32.43 L506.32,32.27 L506.68,32.11 L507.04,31.95 L507.41,31.79 L507.77,31.63 L508.13,31.48 L508.49,31.33 L508.85,31.18 L509.22,31.03 L509.58,30.88 L509.94,30.74 L510.30,30.59 L510.66,30.45 L511.03,30.31 L511.39,30.17 L511.75,30.03 L512.11,29.90 L512.47,29.76 L512.84,29.63 L513.20,29.49 L513.56,29.36 L513.92,29.23 L514.28,29.11 L514.65,28.98 L515.01,28.85 L515.37,28.73 L515.73,28.61 L516.09,28.49 L516.46,28.37 L516.82,28.25 L517.18,28.13 L517.54,28.02 L517.90,27.90 L518.27,27.79 L518.63,27.68 L518.99,27.57 L519.35,27.46 L519.71,27.35 L520.08,27.25 L520.44,27.14 L520.80,27.04 L521.16,26.94 L521.52,26.83 L521.89,26.73 L522.25,26.64 L522.61,26.54 L522.97,26.44 L523.33,26.35 L523.70,26.25 L524.06,26.16 L524.42,26.07 L524.78,25.98 L525.14,25.89 L525.51,25.80 L525.87,25.71 L526.23,25.63 L526.59,25.54 L526.95,25.46 L527.32,25.37 L527.68,25.29 L528.04,25.21 L528.40,25.13 L528.76,25.05 L529.13,24.97 L529.49,24.90 L529.85,24.82 L530.21,24.75 L530.57,24.67 L530.94,24.60 L531.30,24.53" fill="none" stroke="#000000" stroke-width="1.6" stroke-linejoin="round" stroke-linecap="round" clip-path="url(#c4)"/>
<rect x="430.3" y="24.3" width="101.10" height="79.60" fill="none" stroke="#7f7f7f" stroke-width="0.9"/>
<line x1="430.30" y1="103.9" x2="430.30" y2="102.9" stroke="#7f7f7f" stroke-width="0.8"/>
<line x1="430.30" y1="24.3" x2="430.30" y2="25.3" stroke="#7f7f7f" stroke-width="0.8"/>
<line x1="466.50" y1="103.9" x2="466.50" y2="102.9" stroke="#7f7f7f" stroke-width="0.8"/>
<line x1="466.50" y1="24.3" x2="466.50" y2="25.3" stroke="#7f7f7f" stroke-width="0.8"/>
<line x1="502.70" y1="103.9" x2="502.70" y2="102.9" stroke="#7f7f7f" stroke-width="0.8"/>
<line x1="502.70" y1="24.3" x2="502.70" y2="25.3" stroke="#7f7f7f" stroke-width="0.8"/>
<line x1="430.3" y1="87.30" x2="431.3" y2="87.30" stroke="#7f7f7f" stroke-width="0.8"/>
<line x1="531.4" y1="87.30" x2="530.4" y2="87.30" stroke="#7f7f7f" stroke-width="0.8"/>
<line x1="430.3" y1="70.50" x2="431.3" y2="70.50" stroke="#7f7f7f" stroke-width="0.8"/>
<line x1="531.4" y1="70.50" x2="530.4" y2="70.50" stroke="#7f7f7f" stroke-width="0.8"/>
<line x1="430.3" y1="53.70" x2="431.3" y2="53.70" stroke="#7f7f7f" stroke-width="0.8"/>
<line x1="531.4" y1="53.70" x2="530.4" y2="53.70" stroke="#7f7f7f" stroke-width="0.8"/>
<line x1="430.3" y1="36.90" x2="431.3" y2="36.90" stroke="#7f7f7f" stroke-width="0.8"/>
<line x1="531.4" y1="36.90" x2="530.4" y2="36.90" stroke="#7f7f7f" stroke-width="0.8"/>
<text x="430.30" y="113.60" font-size="7.3" text-anchor="middle">0</text>
<text x="466.50" y="113.60" font-size="7.3" text-anchor="middle">0.02</text>
<text x="502.70" y="113.60" font-size="7.3" text-anchor="middle">0.04</text>
<text x="427.70" y="107.10" font-size="7.3" text-anchor="end">0</text>
<text x="427.70" y="90.30" font-size="7.3" text-anchor="end">20</text>
<text x="427.70" y="73.50" font-size="7.3" text-anchor="end">40</text>
<text x="427.70" y="56.70" font-size="7.3" text-anchor="end">60</text>
<text x="427.70" y="39.90" font-size="7.3" text-anchor="end">80</text>
<text x="482.15" y="21.10" font-size="8.5" text-anchor="middle">IP of the Gaussian TIF</text>
<text x="480.85" y="126.20" font-size="8.0" text-anchor="middle">mm<tspan font-size="5.7" dy="-3.1">-1</tspan></text>
<text x="416.80" y="70.50" font-size="8.0" text-anchor="middle" transform="rotate(-90 416.80 70.50)">%</text>
<line x1="430.30" y1="26.99" x2="531.48" y2="26.99" stroke="#ff0000" stroke-width="1.1" stroke-dasharray="3.2 2.2"/>
<line x1="520.08" y1="103.90" x2="520.08" y2="26.99" stroke="#ff0000" stroke-width="1.1" stroke-dasharray="3.2 2.2"/>
<circle cx="520.08" cy="26.99" r="2.4" fill="#ff0000"/>
<text x="454.10" y="82.90" font-size="7.6" text-anchor="start" word-spacing="0.8">(0.05 mm<tspan font-size="5.2" dy="-3.0">-1</tspan><tspan dy="3.0">, 91.8%)</tspan></text>
<line x1="486.00" y1="72.60" x2="514.85" y2="31.76" stroke="#000" stroke-width="1.2"/>
<path d="M517.50,28.00 L516.48,32.91 L513.21,30.60 Z" fill="#000"/>
<clipPath id="g5clip"><rect x="32.7" y="143.5" width="76.40" height="75.30"/></clipPath>
<rect x="32.7" y="143.5" width="76.40" height="75.30" fill="#3e26a8"/>
<ellipse cx="70.5" cy="181.15" rx="38.0" ry="36.9" fill="url(#g5)" clip-path="url(#g5clip)"/>
<text x="49.90" y="229.30" font-size="7.3" text-anchor="middle">-5</text>
<text x="70.90" y="229.30" font-size="7.3" text-anchor="middle">0</text>
<text x="91.90" y="229.30" font-size="7.3" text-anchor="middle">5</text>
<text x="30.00" y="163.60" font-size="7.3" text-anchor="end">5</text>
<text x="30.00" y="184.10" font-size="7.3" text-anchor="end">0</text>
<text x="30.00" y="204.60" font-size="7.3" text-anchor="end">-5</text>
<line x1="49.90" y1="218.8" x2="49.90" y2="217.60000000000002" stroke="#222" stroke-width="0.6" opacity="0.6"/>
<line x1="49.90" y1="143.5" x2="49.90" y2="144.7" stroke="#222" stroke-width="0.6" opacity="0.6"/>
<line x1="70.90" y1="218.8" x2="70.90" y2="217.60000000000002" stroke="#222" stroke-width="0.6" opacity="0.6"/>
<line x1="70.90" y1="143.5" x2="70.90" y2="144.7" stroke="#222" stroke-width="0.6" opacity="0.6"/>
<line x1="91.90" y1="218.8" x2="91.90" y2="217.60000000000002" stroke="#222" stroke-width="0.6" opacity="0.6"/>
<line x1="91.90" y1="143.5" x2="91.90" y2="144.7" stroke="#222" stroke-width="0.6" opacity="0.6"/>
<line x1="32.7" y1="160.60" x2="33.900000000000006" y2="160.60" stroke="#222" stroke-width="0.6" opacity="0.6"/>
<line x1="109.1" y1="160.60" x2="107.89999999999999" y2="160.60" stroke="#222" stroke-width="0.6" opacity="0.6"/>
<line x1="32.7" y1="181.10" x2="33.900000000000006" y2="181.10" stroke="#222" stroke-width="0.6" opacity="0.6"/>
<line x1="109.1" y1="181.10" x2="107.89999999999999" y2="181.10" stroke="#222" stroke-width="0.6" opacity="0.6"/>
<line x1="32.7" y1="201.60" x2="33.900000000000006" y2="201.60" stroke="#222" stroke-width="0.6" opacity="0.6"/>
<line x1="109.1" y1="201.60" x2="107.89999999999999" y2="201.60" stroke="#222" stroke-width="0.6" opacity="0.6"/>
<rect x="32.7" y="143.5" width="76.40" height="75.30" fill="none" stroke="#1a1a40" stroke-width="0.6" opacity="0.5"/>
<linearGradient id="g5cb" x1="0" y1="0" x2="0" y2="1"><stop offset="0.000" stop-color="#f9fb15"/><stop offset="0.016" stop-color="#f7f51b"/><stop offset="0.031" stop-color="#f6ef20"/><stop offset="0.047" stop-color="#f5e924"/><stop offset="0.062" stop-color="#f5e327"/><stop offset="0.078" stop-color="#f7dd2a"/><stop offset="0.094" stop-color="#f9d62d"/><stop offset="0.109" stop-color="#fcd030"/><stop offset="0.125" stop-color="#feca33"/><stop offset="0.141" stop-color="#fec437"/><stop offset="0.156" stop-color="#febe3c"/><stop offset="0.172" stop-color="#f9bb3d"/><stop offset="0.188" stop-color="#f1ba37"/><stop offset="0.203" stop-color="#e8bb2f"/><stop offset="0.219" stop-color="#debc2a"/><stop offset="0.234" stop-color="#d4bf28"/><stop offset="0.250" stop-color="#c8c129"/><stop offset="0.266" stop-color="#bcc42f"/><stop offset="0.281" stop-color="#afc637"/><stop offset="0.297" stop-color="#a2c840"/><stop offset="0.312" stop-color="#94ca4a"/><stop offset="0.328" stop-color="#85cb55"/><stop offset="0.344" stop-color="#77cc60"/><stop offset="0.359" stop-color="#69cd6b"/><stop offset="0.375" stop-color="#5ccc76"/><stop offset="0.391" stop-color="#4fcc80"/><stop offset="0.406" stop-color="#44ca8a"/><stop offset="0.422" stop-color="#3ac993"/><stop offset="0.438" stop-color="#34c79c"/><stop offset="0.453" stop-color="#2ec5a4"/><stop offset="0.469" stop-color="#28c2ab"/><stop offset="0.484" stop-color="#1ec0b2"/><stop offset="0.500" stop-color="#12beb9"/><stop offset="0.516" stop-color="#07bcc0"/><stop offset="0.531" stop-color="#01b9c6"/><stop offset="0.547" stop-color="#04b6cd"/><stop offset="0.562" stop-color="#0cb3d3"/><stop offset="0.578" stop-color="#14b0d8"/><stop offset="0.594" stop-color="#1aacdd"/><stop offset="0.609" stop-color="#1ea7e1"/><stop offset="0.625" stop-color="#21a3e3"/><stop offset="0.641" stop-color="#249ee6"/><stop offset="0.656" stop-color="#269ae9"/><stop offset="0.672" stop-color="#2895ec"/><stop offset="0.688" stop-color="#2c90f0"/><stop offset="0.703" stop-color="#2d8bf4"/><stop offset="0.719" stop-color="#2e85f8"/><stop offset="0.734" stop-color="#3080fa"/><stop offset="0.750" stop-color="#347afd"/><stop offset="0.766" stop-color="#3a74fe"/><stop offset="0.781" stop-color="#3f6efe"/><stop offset="0.797" stop-color="#4368fe"/><stop offset="0.812" stop-color="#4562fc"/><stop offset="0.828" stop-color="#475dfa"/><stop offset="0.844" stop-color="#4757f7"/><stop offset="0.859" stop-color="#4852f4"/><stop offset="0.875" stop-color="#484cef"/><stop offset="0.891" stop-color="#4746ea"/><stop offset="0.906" stop-color="#4741e5"/><stop offset="0.922" stop-color="#463bdd"/><stop offset="0.938" stop-color="#4536d5"/><stop offset="0.953" stop-color="#4332ca"/><stop offset="0.969" stop-color="#422ebf"/><stop offset="0.984" stop-color="#402ab4"/><stop offset="1.000" stop-color="#3e26a8"/></linearGradient>
<rect x="113.6" y="143.5" width="7.80" height="75.30" fill="url(#g5cb)" stroke="#a0a0a0" stroke-width="0.6"/>
<text x="124.00" y="221.20" font-size="6.5" text-anchor="start">0</text>
<text x="124.00" y="206.36" font-size="6.5" text-anchor="start">0.2</text>
<text x="124.00" y="191.52" font-size="6.5" text-anchor="start">0.4</text>
<text x="124.00" y="176.68" font-size="6.5" text-anchor="start">0.6</text>
<text x="124.00" y="161.84" font-size="6.5" text-anchor="start">0.8</text>
<text x="124.00" y="147.00" font-size="6.5" text-anchor="start">1</text>
<text x="116.50" y="139.70" font-size="7.1" text-anchor="middle">[nm]</text>
<text x="70.90" y="237.70" font-size="8.0" text-anchor="middle">mm</text>
<text x="18.90" y="181.10" font-size="8.0" text-anchor="middle" transform="rotate(-90 18.90 181.10)">mm</text>
<text x="70.20" y="131.00" font-size="7.8" text-anchor="middle">2D Spin TIF</text>
<text x="70.4" y="140.9" font-size="8.2" text-anchor="middle" word-spacing="0.3"><tspan font-style="italic">R</tspan><tspan font-style="italic" font-size="6.6" dy="2.0">TIF</tspan><tspan dy="-2.0"> = 9.1 mm</tspan></text>
<line x1="187.75" y1="139.5" x2="187.75" y2="219.2" stroke="#e8e8e8" stroke-width="0.8"/>
<line x1="215.50" y1="139.5" x2="215.50" y2="219.2" stroke="#e8e8e8" stroke-width="0.8"/>
<line x1="243.25" y1="139.5" x2="243.25" y2="219.2" stroke="#e8e8e8" stroke-width="0.8"/>
<line x1="165.0" y1="203.98" x2="266.0" y2="203.98" stroke="#e8e8e8" stroke-width="0.8"/>
<line x1="165.0" y1="188.06" x2="266.0" y2="188.06" stroke="#e8e8e8" stroke-width="0.8"/>
<line x1="165.0" y1="172.14" x2="266.0" y2="172.14" stroke="#e8e8e8" stroke-width="0.8"/>
<line x1="165.0" y1="156.22" x2="266.0" y2="156.22" stroke="#e8e8e8" stroke-width="0.8"/>
<line x1="165.0" y1="140.30" x2="266.0" y2="140.30" stroke="#e8e8e8" stroke-width="0.8"/>
<clipPath id="c6"><rect x="164.7" y="137.5" width="101.6" height="83.19999999999999"/></clipPath>
<path d="M165.00,219.87 L165.08,212.25 L165.16,209.08 L165.25,206.71 L165.33,204.68 L165.42,202.91 L165.50,201.29 L165.58,199.86 L165.67,198.50 L165.75,197.21 L165.84,196.06 L165.92,194.90 L166.01,193.88 L166.09,192.80 L166.17,191.85 L166.26,190.91 L166.34,190.03 L166.43,189.15 L166.51,188.27 L166.59,187.46 L166.68,186.66 L166.76,185.92 L166.85,185.18 L166.93,184.44 L167.02,183.71 L167.10,183.04 L167.18,182.37 L167.27,181.71 L167.35,181.11 L167.44,180.45 L167.52,179.85 L167.60,179.26 L167.69,178.66 L167.77,178.07 L167.86,177.54 L167.94,176.95 L168.03,176.43 L168.11,175.91 L168.19,175.38 L168.28,174.86 L168.36,174.34 L168.45,173.89 L168.53,173.37 L168.61,172.92 L168.70,172.47 L168.78,172.02 L168.87,171.57 L168.95,171.13 L169.04,170.68 L169.12,170.23 L169.20,169.79 L169.29,169.41 L169.37,168.97 L169.46,168.59 L169.54,168.15 L169.62,167.77 L169.71,167.40 L169.79,167.02 L169.88,166.65 L169.96,166.28 L170.05,165.91 L170.13,165.54 L170.21,165.17 L170.30,164.80 L170.47,164.12 L170.63,163.46 L170.80,162.79 L170.97,162.19 L171.14,161.53 L171.31,160.94 L171.48,160.35 L171.64,159.83 L171.81,159.24 L171.98,158.72 L172.15,158.14 L172.32,157.63 L172.49,157.12 L172.65,156.67 L172.82,156.17 L172.99,155.73 L173.16,155.22 L173.33,154.79 L173.50,154.35 L173.67,153.92 L173.83,153.49 L174.00,153.13 L174.17,152.70 L174.34,152.34 L174.51,151.92 L174.68,151.56 L174.84,151.21 L175.01,150.85 L175.18,150.50 L175.35,150.15 L175.60,149.66 L175.85,149.24 L176.02,148.90 L176.27,148.48 L176.53,148.00 L176.78,147.59 L177.03,147.25 L177.28,146.84 L177.54,146.44 L177.79,146.11 L178.04,145.78 L178.29,145.45 L178.55,145.12 L178.80,144.86 L179.05,144.54 L179.30,144.29 L179.56,143.97 L179.81,143.72 L180.06,143.47 L180.40,143.16 L180.74,142.92 L180.99,142.68 L181.32,142.45 L181.66,142.22 L182.00,141.99 L182.34,141.76 L182.67,141.60 L183.01,141.38 L183.35,141.23 L183.68,141.07 L184.10,140.93 L184.44,140.78 L184.86,140.72 L185.20,140.60 L185.62,140.50 L186.04,140.44 L186.46,140.37 L186.88,140.37 L187.30,140.31 L187.72,140.31 L188.14,140.32 L188.56,140.39 L188.98,140.39 L189.41,140.46 L189.83,140.52 L190.25,140.59 L190.58,140.71 L191.01,140.77 L191.34,140.88 L191.68,141.00 L192.02,141.11 L192.35,141.22 L192.69,141.33 L193.03,141.43 L193.36,141.61 L193.70,141.71 L194.04,141.88 L194.37,142.04 L194.71,142.20 L195.05,142.36 L195.38,142.52 L195.72,142.67 L196.06,142.89 L196.39,143.04 L196.73,143.25 L197.07,143.39 L197.40,143.60 L197.74,143.80 L198.08,143.99 L198.41,144.19 L198.75,144.44 L199.09,144.63 L199.42,144.87 L199.76,145.05 L200.10,145.29 L200.43,145.52 L200.77,145.68 L201.11,145.91 L201.44,146.19 L201.78,146.40 L202.12,146.61 L202.45,146.81 L202.79,147.07 L203.13,147.26 L203.46,147.51 L203.80,147.75 L204.14,147.99 L204.47,148.22 L204.81,148.44 L205.15,148.66 L205.48,148.87 L205.82,149.14 L206.16,149.33 L206.49,149.58 L206.83,149.76 L207.17,149.99 L207.50,150.22 L207.84,150.43 L208.18,150.64 L208.51,150.84 L208.85,151.03 L209.19,151.21 L209.52,151.44 L209.86,151.60 L210.20,151.81 L210.53,151.95 L210.87,152.14 L211.21,152.31 L211.54,152.48 L211.88,152.63 L212.22,152.77 L212.55,152.89 L212.89,153.00 L213.23,153.16 L213.65,153.27 L214.07,153.35 L214.41,153.45 L214.83,153.54 L215.25,153.59 L215.67,153.60 L216.09,153.55 L216.51,153.47 L216.93,153.35 L217.35,153.27 L217.69,153.13 L218.11,153.00 L218.45,152.89 L218.78,152.77 L219.12,152.63 L219.46,152.48 L219.79,152.31 L220.13,152.14 L220.47,151.95 L220.80,151.81 L221.14,151.60 L221.48,151.44 L221.81,151.21 L222.15,151.03 L222.49,150.84 L222.82,150.64 L223.16,150.43 L223.50,150.22 L223.83,149.99 L224.17,149.76 L224.51,149.58 L224.84,149.33 L225.18,149.14 L225.52,148.87 L225.85,148.66 L226.19,148.44 L226.53,148.22 L226.86,147.99 L227.20,147.75 L227.54,147.51 L227.87,147.26 L228.21,147.07 L228.55,146.81 L228.88,146.61 L229.22,146.40 L229.56,146.19 L229.89,145.91 L230.23,145.68 L230.57,145.52 L230.90,145.29 L231.24,145.05 L231.58,144.87 L231.91,144.63 L232.25,144.44 L232.59,144.19 L232.92,143.99 L233.26,143.80 L233.60,143.60 L233.93,143.39 L234.27,143.25 L234.61,143.04 L234.94,142.89 L235.28,142.67 L235.62,142.52 L235.95,142.36 L236.29,142.20 L236.63,142.04 L236.96,141.88 L237.30,141.71 L237.64,141.61 L237.97,141.43 L238.31,141.33 L238.65,141.22 L238.98,141.11 L239.32,141.00 L239.66,140.88 L239.99,140.77 L240.42,140.71 L240.75,140.59 L241.17,140.52 L241.59,140.46 L242.02,140.39 L242.44,140.39 L242.86,140.32 L243.28,140.31 L243.70,140.31 L244.12,140.37 L244.54,140.37 L244.96,140.44 L245.38,140.50 L245.80,140.60 L246.14,140.72 L246.56,140.78 L246.90,140.93 L247.23,141.09 L247.65,141.23 L247.99,141.38 L248.33,141.60 L248.66,141.76 L249.00,141.99 L249.34,142.22 L249.68,142.45 L250.01,142.68 L250.26,142.92 L250.60,143.16 L250.85,143.41 L251.11,143.66 L251.36,143.91 L251.61,144.16 L251.86,144.48 L252.12,144.73 L252.37,145.06 L252.62,145.32 L252.87,145.65 L253.13,145.98 L253.38,146.38 L253.63,146.71 L253.88,147.11 L254.14,147.45 L254.39,147.86 L254.56,148.20 L254.81,148.62 L255.06,149.03 L255.23,149.38 L255.48,149.87 L255.74,150.36 L255.99,150.85 L256.16,151.21 L256.32,151.56 L256.49,151.92 L256.66,152.34 L256.83,152.70 L257.00,153.13 L257.17,153.49 L257.33,153.92 L257.50,154.35 L257.67,154.79 L257.84,155.22 L258.01,155.73 L258.18,156.17 L258.35,156.67 L258.51,157.12 L258.68,157.63 L258.85,158.14 L259.02,158.72 L259.19,159.24 L259.36,159.83 L259.52,160.35 L259.69,160.94 L259.86,161.53 L259.94,161.89 L260.11,162.49 L260.28,163.16 L260.45,163.82 L260.62,164.49 L260.79,165.17 L260.87,165.54 L260.95,165.91 L261.04,166.28 L261.12,166.65 L261.21,167.02 L261.29,167.40 L261.38,167.77 L261.46,168.15 L261.54,168.59 L261.63,168.97 L261.71,169.41 L261.80,169.79 L261.88,170.23 L261.96,170.68 L262.05,171.13 L262.13,171.57 L262.22,172.02 L262.30,172.47 L262.39,172.92 L262.47,173.37 L262.55,173.89 L262.64,174.34 L262.72,174.86 L262.81,175.38 L262.89,175.91 L262.97,176.43 L263.06,176.95 L263.14,177.54 L263.23,178.07 L263.31,178.66 L263.40,179.26 L263.48,179.85 L263.56,180.45 L263.65,181.11 L263.73,181.71 L263.82,182.37 L263.90,183.04 L263.98,183.71 L264.07,184.44 L264.15,185.18 L264.24,185.92 L264.32,186.66 L264.41,187.46 L264.49,188.27 L264.57,189.15 L264.66,190.03 L264.74,190.91 L264.83,191.85 L264.91,192.80 L264.99,193.88 L265.08,194.90 L265.16,196.06 L265.25,197.21 L265.33,198.50 L265.42,199.86 L265.50,201.29 L265.58,202.91 L265.67,204.68 L265.75,206.71 L265.84,209.08 L265.92,212.25 L266.00,219.87" fill="none" stroke="#0072bd" stroke-width="1.7" stroke-linejoin="round" stroke-linecap="round" clip-path="url(#c6)"/>
<rect x="165.0" y="139.5" width="101.00" height="79.70" fill="none" stroke="#7f7f7f" stroke-width="0.9"/>
<line x1="187.75" y1="219.2" x2="187.75" y2="218.2" stroke="#7f7f7f" stroke-width="0.8"/>
<line x1="187.75" y1="139.5" x2="187.75" y2="140.5" stroke="#7f7f7f" stroke-width="0.8"/>
<line x1="215.50" y1="219.2" x2="215.50" y2="218.2" stroke="#7f7f7f" stroke-width="0.8"/>
<line x1="215.50" y1="139.5" x2="215.50" y2="140.5" stroke="#7f7f7f" stroke-width="0.8"/>
<line x1="243.25" y1="219.2" x2="243.25" y2="218.2" stroke="#7f7f7f" stroke-width="0.8"/>
<line x1="243.25" y1="139.5" x2="243.25" y2="140.5" stroke="#7f7f7f" stroke-width="0.8"/>
<line x1="165.0" y1="203.98" x2="166.0" y2="203.98" stroke="#7f7f7f" stroke-width="0.8"/>
<line x1="266.0" y1="203.98" x2="265.0" y2="203.98" stroke="#7f7f7f" stroke-width="0.8"/>
<line x1="165.0" y1="188.06" x2="166.0" y2="188.06" stroke="#7f7f7f" stroke-width="0.8"/>
<line x1="266.0" y1="188.06" x2="265.0" y2="188.06" stroke="#7f7f7f" stroke-width="0.8"/>
<line x1="165.0" y1="172.14" x2="166.0" y2="172.14" stroke="#7f7f7f" stroke-width="0.8"/>
<line x1="266.0" y1="172.14" x2="265.0" y2="172.14" stroke="#7f7f7f" stroke-width="0.8"/>
<line x1="165.0" y1="156.22" x2="166.0" y2="156.22" stroke="#7f7f7f" stroke-width="0.8"/>
<line x1="266.0" y1="156.22" x2="265.0" y2="156.22" stroke="#7f7f7f" stroke-width="0.8"/>
<line x1="165.0" y1="140.30" x2="166.0" y2="140.30" stroke="#7f7f7f" stroke-width="0.8"/>
<line x1="266.0" y1="140.30" x2="265.0" y2="140.30" stroke="#7f7f7f" stroke-width="0.8"/>
<text x="187.75" y="229.40" font-size="7.3" text-anchor="middle">-5</text>
<text x="215.50" y="229.40" font-size="7.3" text-anchor="middle">0</text>
<text x="243.25" y="229.40" font-size="7.3" text-anchor="middle">5</text>
<text x="162.00" y="206.98" font-size="7.3" text-anchor="end">0.2</text>
<text x="162.00" y="191.06" font-size="7.3" text-anchor="end">0.4</text>
<text x="162.00" y="175.14" font-size="7.3" text-anchor="end">0.6</text>
<text x="162.00" y="159.22" font-size="7.3" text-anchor="end">0.8</text>
<text x="162.00" y="143.30" font-size="7.3" text-anchor="end">1</text>
<text x="215.50" y="136.30" font-size="8.5" text-anchor="middle">1D Spin TIF profile</text>
<text x="215.50" y="238.60" font-size="8.0" text-anchor="middle">mm</text>
<text x="149.00" y="179.35" font-size="8.0" text-anchor="middle" transform="rotate(-90 149.00 179.35)">nm/sec</text>
<line x1="323.22" y1="139.8" x2="323.22" y2="219.2" stroke="#e8e8e8" stroke-width="0.8"/>
<line x1="348.45" y1="139.8" x2="348.45" y2="219.2" stroke="#e8e8e8" stroke-width="0.8"/>
<line x1="373.68" y1="139.8" x2="373.68" y2="219.2" stroke="#e8e8e8" stroke-width="0.8"/>
<line x1="298.0" y1="207.84" x2="398.9" y2="207.84" stroke="#e8e8e8" stroke-width="0.8"/>
<line x1="298.0" y1="196.28" x2="398.9" y2="196.28" stroke="#e8e8e8" stroke-width="0.8"/>
<line x1="298.0" y1="184.72" x2="398.9" y2="184.72" stroke="#e8e8e8" stroke-width="0.8"/>
<line x1="298.0" y1="173.16" x2="398.9" y2="173.16" stroke="#e8e8e8" stroke-width="0.8"/>
<line x1="298.0" y1="161.60" x2="398.9" y2="161.60" stroke="#e8e8e8" stroke-width="0.8"/>
<line x1="298.0" y1="150.04" x2="398.9" y2="150.04" stroke="#e8e8e8" stroke-width="0.8"/>
<clipPath id="c7"><rect x="297.7" y="137.8" width="101.49999999999997" height="82.89999999999998"/></clipPath>
<path d="M298.00,216.99 L298.50,216.79 L299.01,216.59 L299.51,216.40 L300.02,216.20 L300.52,216.02 L301.03,215.84 L301.53,215.67 L302.04,215.52 L302.54,215.37 L303.04,215.24 L303.55,215.13 L304.05,215.04 L304.56,214.96 L305.06,214.91 L305.57,214.88 L306.07,214.87 L306.58,214.88 L307.08,214.92 L307.59,214.98 L308.09,215.06 L308.59,215.17 L309.10,215.30 L309.60,215.46 L310.11,215.63 L310.61,215.83 L311.12,216.04 L311.62,216.27 L312.13,216.51 L312.63,216.77 L313.13,217.03 L313.64,217.30 L314.14,217.56 L314.65,217.83 L315.15,218.09 L315.66,218.34 L316.16,218.57 L316.67,218.78 L317.17,218.97 L317.68,219.14 L318.18,219.26 L318.68,219.35 L319.19,219.40 L319.69,219.39 L320.20,219.33 L320.70,219.22 L321.21,219.04 L321.71,218.79 L322.22,218.47 L322.72,218.08 L323.22,217.60 L323.48,217.33 L323.73,217.05 L323.98,216.73 L324.23,216.40 L324.49,216.05 L324.74,215.67 L324.99,215.27 L325.24,214.85 L325.50,214.40 L325.75,213.93 L326.00,213.44 L326.25,212.92 L326.50,212.38 L326.76,211.81 L327.01,211.23 L327.26,210.61 L327.51,209.98 L327.77,209.32 L328.02,208.63 L328.27,207.93 L328.52,207.20 L328.77,206.44 L329.03,205.67 L329.28,204.87 L329.53,204.05 L329.78,203.21 L330.04,202.34 L330.29,201.46 L330.54,200.55 L330.79,199.63 L331.04,198.68 L331.30,197.72 L331.55,196.74 L331.80,195.74 L332.05,194.72 L332.31,193.69 L332.56,192.64 L332.81,191.58 L333.06,190.51 L333.31,189.42 L333.57,188.32 L333.82,187.20 L334.07,186.08 L334.32,184.95 L334.58,183.81 L334.83,182.66 L335.08,181.51 L335.33,180.35 L335.59,179.18 L335.84,178.02 L336.09,176.85 L336.34,175.68 L336.59,174.51 L336.85,173.34 L337.10,172.17 L337.35,171.01 L337.60,169.85 L337.86,168.70 L338.11,167.56 L338.36,166.42 L338.61,165.29 L338.86,164.18 L339.12,163.07 L339.37,161.98 L339.62,160.90 L339.87,159.84 L340.13,158.79 L340.38,157.76 L340.63,156.75 L340.88,155.76 L341.13,154.79 L341.39,153.84 L341.64,152.91 L341.89,152.01 L342.14,151.14 L342.40,150.28 L342.65,149.46 L342.90,148.66 L343.15,147.90 L343.40,147.16 L343.66,146.45 L343.91,145.77 L344.16,145.13 L344.41,144.52 L344.67,143.94 L344.92,143.40 L345.17,142.89 L345.42,142.41 L345.68,141.97 L345.93,141.57 L346.18,141.21 L346.43,140.88 L346.68,140.59 L346.94,140.34 L347.44,139.95 L347.95,139.71 L348.45,139.64 L348.95,139.71 L349.46,139.95 L349.96,140.34 L350.22,140.59 L350.47,140.88 L350.72,141.21 L350.97,141.57 L351.22,141.97 L351.48,142.41 L351.73,142.89 L351.98,143.40 L352.23,143.94 L352.49,144.52 L352.74,145.13 L352.99,145.77 L353.24,146.45 L353.50,147.16 L353.75,147.90 L354.00,148.66 L354.25,149.46 L354.50,150.28 L354.76,151.14 L355.01,152.01 L355.26,152.91 L355.51,153.84 L355.77,154.79 L356.02,155.76 L356.27,156.75 L356.52,157.76 L356.77,158.79 L357.03,159.84 L357.28,160.90 L357.53,161.98 L357.78,163.07 L358.04,164.18 L358.29,165.29 L358.54,166.42 L358.79,167.56 L359.04,168.70 L359.30,169.85 L359.55,171.01 L359.80,172.17 L360.05,173.34 L360.31,174.51 L360.56,175.68 L360.81,176.85 L361.06,178.02 L361.31,179.18 L361.57,180.35 L361.82,181.51 L362.07,182.66 L362.32,183.81 L362.58,184.95 L362.83,186.08 L363.08,187.20 L363.33,188.32 L363.58,189.42 L363.84,190.51 L364.09,191.58 L364.34,192.64 L364.59,193.69 L364.85,194.72 L365.10,195.74 L365.35,196.74 L365.60,197.72 L365.86,198.68 L366.11,199.63 L366.36,200.55 L366.61,201.46 L366.86,202.34 L367.12,203.21 L367.37,204.05 L367.62,204.87 L367.87,205.67 L368.13,206.44 L368.38,207.20 L368.63,207.93 L368.88,208.63 L369.13,209.32 L369.39,209.98 L369.64,210.61 L369.89,211.23 L370.14,211.81 L370.40,212.38 L370.65,212.92 L370.90,213.44 L371.15,213.93 L371.40,214.40 L371.66,214.85 L371.91,215.27 L372.16,215.67 L372.41,216.05 L372.67,216.40 L372.92,216.73 L373.17,217.05 L373.42,217.33 L373.67,217.60 L373.93,217.85 L374.43,218.28 L374.94,218.64 L375.44,218.92 L375.95,219.14 L376.45,219.28 L376.95,219.37 L377.46,219.40 L377.96,219.38 L378.47,219.31 L378.97,219.20 L379.48,219.06 L379.98,218.88 L380.49,218.68 L380.99,218.46 L381.49,218.21 L382.00,217.96 L382.50,217.70 L383.01,217.43 L383.51,217.16 L384.02,216.90 L384.52,216.64 L385.03,216.39 L385.53,216.15 L386.04,215.93 L386.54,215.73 L387.04,215.54 L387.55,215.38 L388.05,215.23 L388.56,215.11 L389.06,215.02 L389.57,214.94 L390.07,214.89 L390.58,214.87 L391.08,214.87 L391.58,214.89 L392.09,214.93 L392.59,215.00 L393.10,215.08 L393.60,215.18 L394.11,215.31 L394.61,215.44 L395.12,215.59 L395.62,215.75 L396.13,215.93 L396.63,216.11 L397.13,216.30 L397.64,216.49 L398.14,216.69 L398.65,216.89 L398.90,216.99" fill="none" stroke="#ff0000" stroke-width="1.6" stroke-linejoin="round" stroke-linecap="round" clip-path="url(#c7)"/>
<rect x="298.0" y="139.8" width="100.90" height="79.40" fill="none" stroke="#7f7f7f" stroke-width="0.9"/>
<line x1="298.00" y1="219.2" x2="298.00" y2="218.2" stroke="#7f7f7f" stroke-width="0.8"/>
<line x1="298.00" y1="139.8" x2="298.00" y2="140.8" stroke="#7f7f7f" stroke-width="0.8"/>
<line x1="323.22" y1="219.2" x2="323.22" y2="218.2" stroke="#7f7f7f" stroke-width="0.8"/>
<line x1="323.22" y1="139.8" x2="323.22" y2="140.8" stroke="#7f7f7f" stroke-width="0.8"/>
<line x1="348.45" y1="219.2" x2="348.45" y2="218.2" stroke="#7f7f7f" stroke-width="0.8"/>
<line x1="348.45" y1="139.8" x2="348.45" y2="140.8" stroke="#7f7f7f" stroke-width="0.8"/>
<line x1="373.68" y1="219.2" x2="373.68" y2="218.2" stroke="#7f7f7f" stroke-width="0.8"/>
<line x1="373.68" y1="139.8" x2="373.68" y2="140.8" stroke="#7f7f7f" stroke-width="0.8"/>
<line x1="398.90" y1="219.2" x2="398.90" y2="218.2" stroke="#7f7f7f" stroke-width="0.8"/>
<line x1="398.90" y1="139.8" x2="398.90" y2="140.8" stroke="#7f7f7f" stroke-width="0.8"/>
<line x1="298.0" y1="207.84" x2="299.0" y2="207.84" stroke="#7f7f7f" stroke-width="0.8"/>
<line x1="398.9" y1="207.84" x2="397.9" y2="207.84" stroke="#7f7f7f" stroke-width="0.8"/>
<line x1="298.0" y1="196.28" x2="299.0" y2="196.28" stroke="#7f7f7f" stroke-width="0.8"/>
<line x1="398.9" y1="196.28" x2="397.9" y2="196.28" stroke="#7f7f7f" stroke-width="0.8"/>
<line x1="298.0" y1="184.72" x2="299.0" y2="184.72" stroke="#7f7f7f" stroke-width="0.8"/>
<line x1="398.9" y1="184.72" x2="397.9" y2="184.72" stroke="#7f7f7f" stroke-width="0.8"/>
<line x1="298.0" y1="173.16" x2="299.0" y2="173.16" stroke="#7f7f7f" stroke-width="0.8"/>
<line x1="398.9" y1="173.16" x2="397.9" y2="173.16" stroke="#7f7f7f" stroke-width="0.8"/>
<line x1="298.0" y1="161.60" x2="299.0" y2="161.60" stroke="#7f7f7f" stroke-width="0.8"/>
<line x1="398.9" y1="161.60" x2="397.9" y2="161.60" stroke="#7f7f7f" stroke-width="0.8"/>
<line x1="298.0" y1="150.04" x2="299.0" y2="150.04" stroke="#7f7f7f" stroke-width="0.8"/>
<line x1="398.9" y1="150.04" x2="397.9" y2="150.04" stroke="#7f7f7f" stroke-width="0.8"/>
<text x="298.00" y="229.40" font-size="7.3" text-anchor="middle">-0.1</text>
<text x="323.22" y="229.40" font-size="7.3" text-anchor="middle">-0.05</text>
<text x="348.45" y="229.40" font-size="7.3" text-anchor="middle">0</text>
<text x="373.68" y="229.40" font-size="7.3" text-anchor="middle">0.05</text>
<text x="398.90" y="229.40" font-size="7.3" text-anchor="middle">0.1</text>
<text x="295.40" y="210.84" font-size="7.3" text-anchor="end">2</text>
<text x="295.40" y="199.28" font-size="7.3" text-anchor="end">4</text>
<text x="295.40" y="187.72" font-size="7.3" text-anchor="end">6</text>
<text x="295.40" y="176.16" font-size="7.3" text-anchor="end">8</text>
<text x="295.40" y="164.60" font-size="7.3" text-anchor="end">10</text>
<text x="295.40" y="153.04" font-size="7.3" text-anchor="end">12</text>
<text x="348.45" y="136.20" font-size="8.5" text-anchor="middle">1D Spin TIF PSD</text>
<text x="348.45" y="241.70" font-size="8.0" text-anchor="middle">mm<tspan font-size="5.7" dy="-3.1">-1</tspan></text>
<text x="284.60" y="179.50" font-size="8.0" text-anchor="middle" xml:space="preserve" transform="rotate(-90 284.60 179.50)">nm<tspan font-size="6.5" dy="-3.5">2</tspan><tspan dy="3.5">mm  /sec</tspan><tspan font-size="6.5" dy="-3.5">2</tspan></text>
<line x1="454.20" y1="139.5" x2="454.20" y2="219.1" stroke="#e8e8e8" stroke-width="0.8"/>
<line x1="478.00" y1="139.5" x2="478.00" y2="219.1" stroke="#e8e8e8" stroke-width="0.8"/>
<line x1="501.80" y1="139.5" x2="501.80" y2="219.1" stroke="#e8e8e8" stroke-width="0.8"/>
<line x1="525.60" y1="139.5" x2="525.60" y2="219.1" stroke="#e8e8e8" stroke-width="0.8"/>
<line x1="430.5" y1="202.66" x2="531.4" y2="202.66" stroke="#e8e8e8" stroke-width="0.8"/>
<line x1="430.5" y1="185.92" x2="531.4" y2="185.92" stroke="#e8e8e8" stroke-width="0.8"/>
<line x1="430.5" y1="169.18" x2="531.4" y2="169.18" stroke="#e8e8e8" stroke-width="0.8"/>
<line x1="430.5" y1="152.44" x2="531.4" y2="152.44" stroke="#e8e8e8" stroke-width="0.8"/>
<clipPath id="c8"><rect x="430.2" y="137.5" width="101.49999999999997" height="83.1"/></clipPath>
<path d="M430.40,219.40 L430.64,218.81 L430.88,218.22 L431.11,217.63 L431.35,217.04 L431.59,216.45 L431.83,215.86 L432.07,215.27 L432.30,214.68 L432.54,214.09 L432.78,213.50 L433.02,212.92 L433.26,212.33 L433.49,211.74 L433.73,211.15 L433.97,210.57 L434.21,209.98 L434.45,209.40 L434.68,208.82 L434.92,208.23 L435.16,207.65 L435.40,207.07 L435.64,206.49 L435.87,205.91 L436.11,205.33 L436.35,204.76 L436.59,204.18 L436.83,203.61 L437.06,203.03 L437.30,202.46 L437.54,201.89 L437.78,201.32 L438.02,200.76 L438.25,200.19 L438.49,199.62 L438.73,199.06 L438.97,198.50 L439.21,197.94 L439.44,197.38 L439.68,196.82 L439.92,196.27 L440.16,195.71 L440.40,195.16 L440.63,194.61 L440.87,194.06 L441.11,193.52 L441.35,192.97 L441.59,192.43 L441.82,191.89 L442.06,191.35 L442.30,190.82 L442.54,190.29 L442.78,189.75 L443.01,189.22 L443.25,188.70 L443.49,188.17 L443.73,187.65 L443.97,187.13 L444.20,186.61 L444.44,186.10 L444.68,185.58 L444.92,185.07 L445.16,184.57 L445.39,184.06 L445.63,183.56 L445.87,183.06 L446.11,182.56 L446.35,182.07 L446.58,181.57 L446.82,181.08 L447.06,180.60 L447.30,180.11 L447.54,179.63 L447.77,179.15 L448.01,178.68 L448.25,178.21 L448.49,177.74 L448.73,177.27 L448.96,176.81 L449.20,176.34 L449.44,175.89 L449.68,175.43 L449.92,174.98 L450.15,174.53 L450.39,174.09 L450.63,173.64 L450.87,173.20 L451.11,172.77 L451.34,172.33 L451.58,171.90 L451.82,171.48 L452.06,171.05 L452.30,170.63 L452.53,170.22 L452.77,169.80 L453.01,169.39 L453.25,168.99 L453.49,168.58 L453.72,168.18 L453.96,167.78 L454.20,167.39 L454.44,167.00 L454.68,166.61 L454.91,166.23 L455.15,165.85 L455.39,165.47 L455.63,165.10 L455.87,164.73 L456.10,164.36 L456.34,164.00 L456.58,163.64 L456.82,163.28 L457.06,162.93 L457.29,162.58 L457.53,162.23 L457.77,161.89 L458.01,161.55 L458.25,161.21 L458.48,160.88 L458.72,160.55 L458.96,160.23 L459.20,159.91 L459.44,159.59 L459.67,159.27 L459.91,158.96 L460.15,158.65 L460.39,158.35 L460.63,158.05 L460.86,157.75 L461.10,157.46 L461.34,157.16 L461.58,156.88 L461.82,156.59 L462.05,156.31 L462.29,156.04 L462.53,155.76 L462.77,155.49 L463.01,155.22 L463.24,154.96 L463.48,154.70 L463.72,154.44 L464.08,154.07 L464.43,153.69 L464.79,153.33 L465.15,152.97 L465.50,152.63 L465.86,152.28 L466.22,151.95 L466.58,151.62 L466.93,151.30 L467.29,150.99 L467.65,150.69 L468.00,150.39 L468.36,150.10 L468.72,149.81 L469.07,149.53 L469.43,149.26 L469.79,149.00 L470.15,148.74 L470.50,148.49 L470.86,148.25 L471.22,148.01 L471.57,147.78 L471.93,147.55 L472.29,147.34 L472.64,147.12 L473.00,146.92 L473.36,146.72 L473.72,146.52 L474.07,146.33 L474.43,146.15 L474.79,145.97 L475.14,145.80 L475.50,145.64 L475.86,145.48 L476.21,145.32 L476.57,145.17 L476.93,145.03 L477.29,144.89 L477.64,144.75 L478.00,144.62 L478.36,144.50 L478.71,144.38 L479.07,144.26 L479.43,144.15 L479.78,144.04 L480.14,143.94 L480.50,143.84 L480.86,143.75 L481.21,143.66 L481.57,143.57 L481.93,143.49 L482.28,143.41 L482.64,143.34 L483.00,143.27 L483.35,143.20 L483.71,143.13 L484.07,143.07 L484.43,143.01 L484.78,142.96 L485.14,142.91 L485.50,142.86 L485.85,142.81 L486.21,142.77 L486.57,142.73 L486.92,142.69 L487.28,142.65 L487.64,142.62 L488.00,142.59 L488.35,142.56 L488.71,142.53 L489.07,142.51 L489.42,142.48 L489.78,142.46 L490.14,142.44 L490.50,142.42 L490.85,142.41 L491.21,142.39 L491.57,142.38 L491.92,142.37 L492.28,142.36 L492.64,142.35 L492.99,142.34 L493.35,142.33 L493.71,142.32 L494.06,142.32 L494.42,142.31 L494.78,142.31 L495.14,142.30 L495.49,142.30 L495.85,142.30 L496.21,142.30 L496.56,142.30 L496.92,142.30 L497.28,142.29 L497.63,142.29 L497.99,142.29 L498.35,142.29 L498.71,142.29 L499.06,142.29 L499.42,142.29 L499.78,142.29 L500.13,142.29 L500.49,142.29 L500.85,142.29 L501.20,142.29 L501.56,142.29 L501.92,142.29 L502.28,142.29 L502.63,142.28 L502.99,142.28 L503.35,142.28 L503.70,142.28 L504.06,142.27 L504.42,142.27 L504.77,142.26 L505.13,142.25 L505.49,142.25 L505.85,142.24 L506.20,142.23 L506.56,142.22 L506.92,142.21 L507.27,142.20 L507.63,142.19 L507.99,142.18 L508.34,142.17 L508.70,142.15 L509.06,142.14 L509.42,142.12 L509.77,142.11 L510.13,142.09 L510.49,142.07 L510.84,142.05 L511.20,142.04 L511.56,142.01 L511.91,141.99 L512.27,141.97 L512.63,141.95 L512.99,141.92 L513.34,141.90 L513.70,141.87 L514.06,141.85 L514.41,141.82 L514.77,141.79 L515.13,141.76 L515.49,141.73 L515.84,141.70 L516.20,141.67 L516.56,141.63 L516.91,141.60 L517.27,141.57 L517.63,141.53 L517.98,141.50 L518.34,141.46 L518.70,141.42 L519.05,141.38 L519.41,141.34 L519.77,141.30 L520.13,141.26 L520.48,141.22 L520.84,141.18 L521.20,141.14 L521.55,141.10 L521.91,141.05 L522.27,141.01 L522.62,140.97 L522.98,140.92 L523.34,140.88 L523.70,140.83 L524.05,140.78 L524.41,140.74 L524.77,140.69 L525.12,140.64 L525.48,140.59 L525.84,140.55 L526.19,140.50 L526.55,140.45 L526.91,140.40 L527.27,140.35 L527.62,140.30 L527.98,140.25 L528.34,140.20 L528.69,140.15 L529.05,140.10 L529.41,140.05 L529.76,140.00 L530.12,139.95 L530.48,139.90 L530.84,139.85 L531.19,139.80 L531.55,139.75 L531.91,139.70" fill="none" stroke="#000000" stroke-width="1.6" stroke-linejoin="round" stroke-linecap="round" clip-path="url(#c8)"/>
<rect x="430.5" y="139.5" width="100.90" height="79.60" fill="none" stroke="#7f7f7f" stroke-width="0.9"/>
<line x1="430.40" y1="219.1" x2="430.40" y2="218.1" stroke="#7f7f7f" stroke-width="0.8"/>
<line x1="430.40" y1="139.5" x2="430.40" y2="140.5" stroke="#7f7f7f" stroke-width="0.8"/>
<line x1="454.20" y1="219.1" x2="454.20" y2="218.1" stroke="#7f7f7f" stroke-width="0.8"/>
<line x1="454.20" y1="139.5" x2="454.20" y2="140.5" stroke="#7f7f7f" stroke-width="0.8"/>
<line x1="478.00" y1="219.1" x2="478.00" y2="218.1" stroke="#7f7f7f" stroke-width="0.8"/>
<line x1="478.00" y1="139.5" x2="478.00" y2="140.5" stroke="#7f7f7f" stroke-width="0.8"/>
<line x1="501.80" y1="219.1" x2="501.80" y2="218.1" stroke="#7f7f7f" stroke-width="0.8"/>
<line x1="501.80" y1="139.5" x2="501.80" y2="140.5" stroke="#7f7f7f" stroke-width="0.8"/>
<line x1="525.60" y1="219.1" x2="525.60" y2="218.1" stroke="#7f7f7f" stroke-width="0.8"/>
<line x1="525.60" y1="139.5" x2="525.60" y2="140.5" stroke="#7f7f7f" stroke-width="0.8"/>
<line x1="430.5" y1="202.66" x2="431.5" y2="202.66" stroke="#7f7f7f" stroke-width="0.8"/>
<line x1="531.4" y1="202.66" x2="530.4" y2="202.66" stroke="#7f7f7f" stroke-width="0.8"/>
<line x1="430.5" y1="185.92" x2="431.5" y2="185.92" stroke="#7f7f7f" stroke-width="0.8"/>
<line x1="531.4" y1="185.92" x2="530.4" y2="185.92" stroke="#7f7f7f" stroke-width="0.8"/>
<line x1="430.5" y1="169.18" x2="431.5" y2="169.18" stroke="#7f7f7f" stroke-width="0.8"/>
<line x1="531.4" y1="169.18" x2="530.4" y2="169.18" stroke="#7f7f7f" stroke-width="0.8"/>
<line x1="430.5" y1="152.44" x2="431.5" y2="152.44" stroke="#7f7f7f" stroke-width="0.8"/>
<line x1="531.4" y1="152.44" x2="530.4" y2="152.44" stroke="#7f7f7f" stroke-width="0.8"/>
<text x="430.40" y="229.40" font-size="7.3" text-anchor="middle">0</text>
<text x="454.20" y="229.40" font-size="7.3" text-anchor="middle">0.02</text>
<text x="478.00" y="229.40" font-size="7.3" text-anchor="middle">0.04</text>
<text x="501.80" y="229.40" font-size="7.3" text-anchor="middle">0.06</text>
<text x="525.60" y="229.40" font-size="7.3" text-anchor="middle">0.08</text>
<text x="427.90" y="222.40" font-size="7.3" text-anchor="end">0</text>
<text x="427.90" y="205.66" font-size="7.3" text-anchor="end">20</text>
<text x="427.90" y="188.92" font-size="7.3" text-anchor="end">40</text>
<text x="427.90" y="172.18" font-size="7.3" text-anchor="end">60</text>
<text x="427.90" y="155.44" font-size="7.3" text-anchor="end">80</text>
<text x="482.25" y="136.30" font-size="8.5" text-anchor="middle">IP of the Spin TIF</text>
<text x="480.95" y="241.70" font-size="8.0" text-anchor="middle">mm<tspan font-size="5.7" dy="-3.1">-1</tspan></text>
<text x="416.80" y="185.92" font-size="8.0" text-anchor="middle" transform="rotate(-90 416.80 185.92)">%</text>
<line x1="430.50" y1="142.56" x2="531.91" y2="142.56" stroke="#ff0000" stroke-width="1.1" stroke-dasharray="3.2 2.2"/>
<line x1="489.90" y1="219.10" x2="489.90" y2="142.56" stroke="#ff0000" stroke-width="1.1" stroke-dasharray="3.2 2.2"/>
<circle cx="489.90" cy="142.56" r="2.4" fill="#ff0000"/>
<text x="442.90" y="196.50" font-size="7.6" text-anchor="start" word-spacing="0.8">(0.05 mm<tspan font-size="5.2" dy="-3.0">-1</tspan><tspan dy="3.0">, 91.8%)</tspan></text>
<line x1="473.70" y1="186.20" x2="486.27" y2="150.44" stroke="#000" stroke-width="1.2"/>
<path d="M487.80,146.10 L488.16,151.10 L484.39,149.78 Z" fill="#000"/>
<rect x="32.6" y="259.2" width="76.50" height="74.60" fill="url(#g9)"/>
<text x="49.35" y="345.00" font-size="7.3" text-anchor="middle">-5</text>
<text x="70.85" y="345.00" font-size="7.3" text-anchor="middle">0</text>
<text x="92.35" y="345.00" font-size="7.3" text-anchor="middle">5</text>
<text x="30.00" y="278.55" font-size="7.3" text-anchor="end">5</text>
<text x="30.00" y="299.50" font-size="7.3" text-anchor="end">0</text>
<text x="30.00" y="320.45" font-size="7.3" text-anchor="end">-5</text>
<line x1="49.35" y1="333.8" x2="49.35" y2="332.6" stroke="#222" stroke-width="0.6" opacity="0.6"/>
<line x1="49.35" y1="259.2" x2="49.35" y2="260.4" stroke="#222" stroke-width="0.6" opacity="0.6"/>
<line x1="70.85" y1="333.8" x2="70.85" y2="332.6" stroke="#222" stroke-width="0.6" opacity="0.6"/>
<line x1="70.85" y1="259.2" x2="70.85" y2="260.4" stroke="#222" stroke-width="0.6" opacity="0.6"/>
<line x1="92.35" y1="333.8" x2="92.35" y2="332.6" stroke="#222" stroke-width="0.6" opacity="0.6"/>
<line x1="92.35" y1="259.2" x2="92.35" y2="260.4" stroke="#222" stroke-width="0.6" opacity="0.6"/>
<line x1="32.6" y1="275.55" x2="33.800000000000004" y2="275.55" stroke="#222" stroke-width="0.6" opacity="0.6"/>
<line x1="109.1" y1="275.55" x2="107.89999999999999" y2="275.55" stroke="#222" stroke-width="0.6" opacity="0.6"/>
<line x1="32.6" y1="296.50" x2="33.800000000000004" y2="296.50" stroke="#222" stroke-width="0.6" opacity="0.6"/>
<line x1="109.1" y1="296.50" x2="107.89999999999999" y2="296.50" stroke="#222" stroke-width="0.6" opacity="0.6"/>
<line x1="32.6" y1="317.45" x2="33.800000000000004" y2="317.45" stroke="#222" stroke-width="0.6" opacity="0.6"/>
<line x1="109.1" y1="317.45" x2="107.89999999999999" y2="317.45" stroke="#222" stroke-width="0.6" opacity="0.6"/>
<rect x="32.6" y="259.2" width="76.50" height="74.60" fill="none" stroke="#1a1a40" stroke-width="0.6" opacity="0.5"/>
<linearGradient id="g9cb" x1="0" y1="0" x2="0" y2="1"><stop offset="0.000" stop-color="#f9fb15"/><stop offset="0.016" stop-color="#f7f51b"/><stop offset="0.031" stop-color="#f6ef20"/><stop offset="0.047" stop-color="#f5e924"/><stop offset="0.062" stop-color="#f5e327"/><stop offset="0.078" stop-color="#f7dd2a"/><stop offset="0.094" stop-color="#f9d62d"/><stop offset="0.109" stop-color="#fcd030"/><stop offset="0.125" stop-color="#feca33"/><stop offset="0.141" stop-color="#fec437"/><stop offset="0.156" stop-color="#febe3c"/><stop offset="0.172" stop-color="#f9bb3d"/><stop offset="0.188" stop-color="#f1ba37"/><stop offset="0.203" stop-color="#e8bb2f"/><stop offset="0.219" stop-color="#debc2a"/><stop offset="0.234" stop-color="#d4bf28"/><stop offset="0.250" stop-color="#c8c129"/><stop offset="0.266" stop-color="#bcc42f"/><stop offset="0.281" stop-color="#afc637"/><stop offset="0.297" stop-color="#a2c840"/><stop offset="0.312" stop-color="#94ca4a"/><stop offset="0.328" stop-color="#85cb55"/><stop offset="0.344" stop-color="#77cc60"/><stop offset="0.359" stop-color="#69cd6b"/><stop offset="0.375" stop-color="#5ccc76"/><stop offset="0.391" stop-color="#4fcc80"/><stop offset="0.406" stop-color="#44ca8a"/><stop offset="0.422" stop-color="#3ac993"/><stop offset="0.438" stop-color="#34c79c"/><stop offset="0.453" stop-color="#2ec5a4"/><stop offset="0.469" stop-color="#28c2ab"/><stop offset="0.484" stop-color="#1ec0b2"/><stop offset="0.500" stop-color="#12beb9"/><stop offset="0.516" stop-color="#07bcc0"/><stop offset="0.531" stop-color="#01b9c6"/><stop offset="0.547" stop-color="#04b6cd"/><stop offset="0.562" stop-color="#0cb3d3"/><stop offset="0.578" stop-color="#14b0d8"/><stop offset="0.594" stop-color="#1aacdd"/><stop offset="0.609" stop-color="#1ea7e1"/><stop offset="0.625" stop-color="#21a3e3"/><stop offset="0.641" stop-color="#249ee6"/><stop offset="0.656" stop-color="#269ae9"/><stop offset="0.672" stop-color="#2895ec"/><stop offset="0.688" stop-color="#2c90f0"/><stop offset="0.703" stop-color="#2d8bf4"/><stop offset="0.719" stop-color="#2e85f8"/><stop offset="0.734" stop-color="#3080fa"/><stop offset="0.750" stop-color="#347afd"/><stop offset="0.766" stop-color="#3a74fe"/><stop offset="0.781" stop-color="#3f6efe"/><stop offset="0.797" stop-color="#4368fe"/><stop offset="0.812" stop-color="#4562fc"/><stop offset="0.828" stop-color="#475dfa"/><stop offset="0.844" stop-color="#4757f7"/><stop offset="0.859" stop-color="#4852f4"/><stop offset="0.875" stop-color="#484cef"/><stop offset="0.891" stop-color="#4746ea"/><stop offset="0.906" stop-color="#4741e5"/><stop offset="0.922" stop-color="#463bdd"/><stop offset="0.938" stop-color="#4536d5"/><stop offset="0.953" stop-color="#4332ca"/><stop offset="0.969" stop-color="#422ebf"/><stop offset="0.984" stop-color="#402ab4"/><stop offset="1.000" stop-color="#3e26a8"/></linearGradient>
<rect x="113.8" y="259.3" width="7.70" height="74.50" fill="url(#g9cb)" stroke="#a0a0a0" stroke-width="0.6"/>
<text x="124.10" y="337.00" font-size="6.5" text-anchor="start">0</text>
<text x="124.10" y="322.04" font-size="6.5" text-anchor="start">0.2</text>
<text x="124.10" y="307.08" font-size="6.5" text-anchor="start">0.4</text>
<text x="124.10" y="292.12" font-size="6.5" text-anchor="start">0.6</text>
<text x="124.10" y="277.16" font-size="6.5" text-anchor="start">0.8</text>
<text x="124.10" y="262.20" font-size="6.5" text-anchor="start">1</text>
<text x="116.50" y="254.80" font-size="7.1" text-anchor="middle">[nm]</text>
<text x="70.85" y="353.40" font-size="8.0" text-anchor="middle">mm</text>
<text x="18.90" y="296.50" font-size="8.0" text-anchor="middle" transform="rotate(-90 18.90 296.50)">mm</text>
<text x="70.30" y="246.80" font-size="7.8" text-anchor="middle">2D Orbital TIF</text>
<text x="70.1" y="256.5" font-size="8.2" text-anchor="middle" word-spacing="0.3"><tspan font-style="italic">R</tspan><tspan font-style="italic" font-size="6.6" dy="2.0">TIF</tspan><tspan dy="-2.0"> = 8.9 mm</tspan></text>
<line x1="187.35" y1="255.3" x2="187.35" y2="334.6" stroke="#e8e8e8" stroke-width="0.8"/>
<line x1="215.65" y1="255.3" x2="215.65" y2="334.6" stroke="#e8e8e8" stroke-width="0.8"/>
<line x1="243.95" y1="255.3" x2="243.95" y2="334.6" stroke="#e8e8e8" stroke-width="0.8"/>
<line x1="165.3" y1="319.38" x2="266.0" y2="319.38" stroke="#e8e8e8" stroke-width="0.8"/>
<line x1="165.3" y1="303.46" x2="266.0" y2="303.46" stroke="#e8e8e8" stroke-width="0.8"/>
<line x1="165.3" y1="287.54" x2="266.0" y2="287.54" stroke="#e8e8e8" stroke-width="0.8"/>
<line x1="165.3" y1="271.62" x2="266.0" y2="271.62" stroke="#e8e8e8" stroke-width="0.8"/>
<clipPath id="c10"><rect x="165.0" y="253.3" width="101.29999999999998" height="82.80000000000001"/></clipPath>
<path d="M165.28,335.30 L165.53,334.85 L165.78,334.40 L166.03,333.95 L166.28,333.50 L166.54,333.05 L166.79,332.60 L167.04,332.15 L167.29,331.70 L167.54,331.25 L167.79,330.81 L168.05,330.36 L168.30,329.91 L168.55,329.47 L168.80,329.02 L169.05,328.58 L169.31,328.13 L169.56,327.69 L169.81,327.24 L170.06,326.80 L170.31,326.36 L170.57,325.91 L170.82,325.47 L171.07,325.03 L171.32,324.59 L171.57,324.15 L171.82,323.71 L172.08,323.27 L172.33,322.83 L172.58,322.39 L172.83,321.95 L173.08,321.51 L173.34,321.07 L173.59,320.63 L173.84,320.20 L174.09,319.76 L174.34,319.32 L174.60,318.89 L174.85,318.45 L175.10,318.01 L175.35,317.58 L175.60,317.14 L175.85,316.71 L176.11,316.28 L176.36,315.84 L176.61,315.41 L176.86,314.97 L177.11,314.54 L177.37,314.11 L177.62,313.68 L177.87,313.24 L178.12,312.81 L178.37,312.38 L178.63,311.95 L178.88,311.52 L179.13,311.09 L179.38,310.66 L179.63,310.22 L179.88,309.79 L180.14,309.36 L180.39,308.93 L180.64,308.50 L180.89,308.08 L181.14,307.65 L181.40,307.22 L181.65,306.79 L181.90,306.36 L182.15,305.93 L182.40,305.50 L182.66,305.07 L182.91,304.64 L183.16,304.21 L183.41,303.78 L183.66,303.35 L183.91,302.93 L184.17,302.50 L184.42,302.07 L184.67,301.64 L184.92,301.21 L185.17,300.78 L185.43,300.35 L185.68,299.92 L185.93,299.49 L186.18,299.06 L186.43,298.63 L186.68,298.20 L186.94,297.76 L187.19,297.33 L187.44,296.90 L187.69,296.47 L187.94,296.03 L188.20,295.60 L188.45,295.16 L188.70,294.73 L188.95,294.29 L189.20,293.86 L189.46,293.42 L189.71,292.98 L189.96,292.54 L190.21,292.10 L190.46,291.66 L190.71,291.21 L190.97,290.77 L191.22,290.32 L191.47,289.88 L191.72,289.43 L191.97,288.98 L192.23,288.53 L192.48,288.07 L192.73,287.62 L192.98,287.16 L193.23,286.70 L193.40,286.39 L193.57,286.08 L193.74,285.77 L193.91,285.45 L194.07,285.14 L194.24,284.83 L194.41,284.51 L194.58,284.19 L194.74,283.87 L194.91,283.55 L195.08,283.23 L195.25,282.90 L195.42,282.57 L195.58,282.24 L195.75,281.91 L195.92,281.58 L196.09,281.24 L196.26,280.90 L196.42,280.56 L196.59,280.21 L196.76,279.86 L196.93,279.51 L197.10,279.15 L197.26,278.79 L197.43,278.42 L197.60,278.05 L197.77,277.67 L197.94,277.29 L198.10,276.90 L198.27,276.50 L198.44,276.10 L198.61,275.68 L198.77,275.25 L198.94,274.81 L199.11,274.35 L199.28,273.87 L199.45,273.36 L199.61,272.81 L199.78,272.15 L199.87,271.75 L200.03,271.14 L200.20,270.61 L200.37,270.12 L200.54,269.66 L200.71,269.23 L200.87,268.82 L201.04,268.43 L201.21,268.05 L201.38,267.68 L201.55,267.33 L201.71,266.98 L201.88,266.65 L202.05,266.33 L202.22,266.01 L202.47,265.56 L202.72,265.12 L202.97,264.70 L203.22,264.29 L203.48,263.90 L203.73,263.52 L203.98,263.15 L204.23,262.80 L204.48,262.46 L204.74,262.13 L204.99,261.81 L205.24,261.50 L205.49,261.20 L205.74,260.91 L205.99,260.63 L206.25,260.36 L206.50,260.10 L206.75,259.85 L207.00,259.60 L207.34,259.29 L207.67,259.00 L208.01,258.71 L208.35,258.45 L208.68,258.19 L209.02,257.95 L209.35,257.72 L209.69,257.51 L210.02,257.31 L210.36,257.12 L210.70,256.94 L211.03,256.78 L211.37,256.62 L211.70,256.48 L212.04,256.35 L212.38,256.24 L212.71,256.13 L213.13,256.02 L213.55,255.92 L213.97,255.84 L214.39,255.78 L214.81,255.74 L215.23,255.71 L215.65,255.70 L216.07,255.71 L216.49,255.74 L216.91,255.78 L217.33,255.84 L217.75,255.92 L218.17,256.02 L218.59,256.13 L218.92,256.24 L219.26,256.35 L219.60,256.48 L219.93,256.62 L220.27,256.78 L220.60,256.94 L220.94,257.12 L221.28,257.31 L221.61,257.51 L221.95,257.72 L222.28,257.95 L222.62,258.19 L222.95,258.45 L223.29,258.71 L223.63,259.00 L223.96,259.29 L224.30,259.60 L224.55,259.85 L224.80,260.10 L225.05,260.36 L225.31,260.63 L225.56,260.91 L225.81,261.20 L226.06,261.50 L226.31,261.81 L226.56,262.13 L226.82,262.46 L227.07,262.80 L227.32,263.15 L227.57,263.52 L227.82,263.90 L228.08,264.29 L228.33,264.70 L228.58,265.12 L228.83,265.56 L229.08,266.01 L229.25,266.33 L229.42,266.65 L229.59,266.98 L229.75,267.33 L229.92,267.68 L230.09,268.05 L230.26,268.43 L230.43,268.82 L230.59,269.23 L230.76,269.66 L230.93,270.12 L231.10,270.61 L231.27,271.14 L231.43,271.75 L231.52,272.15 L231.60,272.50 L231.77,273.09 L231.94,273.62 L232.11,274.11 L232.27,274.58 L232.44,275.03 L232.61,275.47 L232.78,275.89 L232.95,276.30 L233.11,276.70 L233.28,277.10 L233.45,277.48 L233.62,277.86 L233.78,278.24 L233.95,278.61 L234.12,278.97 L234.29,279.33 L234.46,279.68 L234.62,280.04 L234.79,280.38 L234.96,280.73 L235.13,281.07 L235.30,281.41 L235.46,281.74 L235.63,282.08 L235.80,282.41 L235.97,282.74 L236.14,283.06 L236.30,283.39 L236.47,283.71 L236.64,284.03 L236.81,284.35 L236.97,284.67 L237.14,284.98 L237.31,285.30 L237.48,285.61 L237.65,285.92 L237.81,286.23 L237.98,286.54 L238.15,286.85 L238.40,287.31 L238.65,287.77 L238.91,288.22 L239.16,288.68 L239.41,289.13 L239.66,289.58 L239.91,290.03 L240.17,290.47 L240.42,290.92 L240.67,291.36 L240.92,291.80 L241.17,292.25 L241.42,292.69 L241.68,293.13 L241.93,293.56 L242.18,294.00 L242.43,294.44 L242.68,294.87 L242.94,295.31 L243.19,295.74 L243.44,296.18 L243.69,296.61 L243.94,297.04 L244.20,297.48 L244.45,297.91 L244.70,298.34 L244.95,298.77 L245.20,299.20 L245.45,299.63 L245.71,300.06 L245.96,300.49 L246.21,300.92 L246.46,301.35 L246.71,301.78 L246.97,302.21 L247.22,302.64 L247.47,303.07 L247.72,303.50 L247.97,303.93 L248.23,304.36 L248.48,304.78 L248.73,305.21 L248.98,305.64 L249.23,306.07 L249.48,306.50 L249.74,306.93 L249.99,307.36 L250.24,307.79 L250.49,308.22 L250.74,308.65 L251.00,309.08 L251.25,309.51 L251.50,309.94 L251.75,310.37 L252.00,310.80 L252.26,311.23 L252.51,311.66 L252.76,312.09 L253.01,312.52 L253.26,312.96 L253.51,313.39 L253.77,313.82 L254.02,314.25 L254.27,314.69 L254.52,315.12 L254.77,315.55 L255.03,315.99 L255.28,316.42 L255.53,316.85 L255.78,317.29 L256.03,317.72 L256.29,318.16 L256.54,318.59 L256.79,319.03 L257.04,319.47 L257.29,319.90 L257.54,320.34 L257.80,320.78 L258.05,321.22 L258.30,321.66 L258.55,322.09 L258.80,322.53 L259.06,322.97 L259.31,323.41 L259.56,323.85 L259.81,324.29 L260.06,324.73 L260.31,325.18 L260.57,325.62 L260.82,326.06 L261.07,326.50 L261.32,326.95 L261.57,327.39 L261.83,327.83 L262.08,328.28 L262.33,328.72 L262.58,329.17 L262.83,329.61 L263.09,330.06 L263.34,330.51 L263.59,330.95 L263.84,331.40 L264.09,331.85 L264.34,332.30 L264.60,332.75 L264.85,333.20 L265.10,333.65 L265.35,334.10 L265.60,334.55 L265.86,335.00 L266.02,335.30" fill="none" stroke="#0072bd" stroke-width="1.7" stroke-linejoin="round" stroke-linecap="round" clip-path="url(#c10)"/>
<rect x="165.3" y="255.3" width="100.70" height="79.30" fill="none" stroke="#7f7f7f" stroke-width="0.9"/>
<line x1="187.35" y1="334.6" x2="187.35" y2="333.6" stroke="#7f7f7f" stroke-width="0.8"/>
<line x1="187.35" y1="255.3" x2="187.35" y2="256.3" stroke="#7f7f7f" stroke-width="0.8"/>
<line x1="215.65" y1="334.6" x2="215.65" y2="333.6" stroke="#7f7f7f" stroke-width="0.8"/>
<line x1="215.65" y1="255.3" x2="215.65" y2="256.3" stroke="#7f7f7f" stroke-width="0.8"/>
<line x1="243.95" y1="334.6" x2="243.95" y2="333.6" stroke="#7f7f7f" stroke-width="0.8"/>
<line x1="243.95" y1="255.3" x2="243.95" y2="256.3" stroke="#7f7f7f" stroke-width="0.8"/>
<line x1="165.3" y1="319.38" x2="166.3" y2="319.38" stroke="#7f7f7f" stroke-width="0.8"/>
<line x1="266.0" y1="319.38" x2="265.0" y2="319.38" stroke="#7f7f7f" stroke-width="0.8"/>
<line x1="165.3" y1="303.46" x2="166.3" y2="303.46" stroke="#7f7f7f" stroke-width="0.8"/>
<line x1="266.0" y1="303.46" x2="265.0" y2="303.46" stroke="#7f7f7f" stroke-width="0.8"/>
<line x1="165.3" y1="287.54" x2="166.3" y2="287.54" stroke="#7f7f7f" stroke-width="0.8"/>
<line x1="266.0" y1="287.54" x2="265.0" y2="287.54" stroke="#7f7f7f" stroke-width="0.8"/>
<line x1="165.3" y1="271.62" x2="166.3" y2="271.62" stroke="#7f7f7f" stroke-width="0.8"/>
<line x1="266.0" y1="271.62" x2="265.0" y2="271.62" stroke="#7f7f7f" stroke-width="0.8"/>
<line x1="165.3" y1="255.70" x2="166.3" y2="255.70" stroke="#7f7f7f" stroke-width="0.8"/>
<line x1="266.0" y1="255.70" x2="265.0" y2="255.70" stroke="#7f7f7f" stroke-width="0.8"/>
<text x="187.35" y="345.00" font-size="7.3" text-anchor="middle">-5</text>
<text x="215.65" y="345.00" font-size="7.3" text-anchor="middle">0</text>
<text x="243.95" y="345.00" font-size="7.3" text-anchor="middle">5</text>
<text x="162.00" y="322.38" font-size="7.3" text-anchor="end">0.2</text>
<text x="162.00" y="306.46" font-size="7.3" text-anchor="end">0.4</text>
<text x="162.00" y="290.54" font-size="7.3" text-anchor="end">0.6</text>
<text x="162.00" y="274.62" font-size="7.3" text-anchor="end">0.8</text>
<text x="162.00" y="258.70" font-size="7.3" text-anchor="end">1</text>
<text x="215.65" y="251.90" font-size="8.5" text-anchor="middle">1D Orbital TIF profile</text>
<text x="215.65" y="354.20" font-size="8.0" text-anchor="middle">mm</text>
<text x="149.00" y="294.95" font-size="8.0" text-anchor="middle" transform="rotate(-90 149.00 294.95)">nm/sec</text>
<line x1="323.32" y1="255.3" x2="323.32" y2="334.6" stroke="#e8e8e8" stroke-width="0.8"/>
<line x1="348.45" y1="255.3" x2="348.45" y2="334.6" stroke="#e8e8e8" stroke-width="0.8"/>
<line x1="373.57" y1="255.3" x2="373.57" y2="334.6" stroke="#e8e8e8" stroke-width="0.8"/>
<line x1="298.2" y1="308.50" x2="398.7" y2="308.50" stroke="#e8e8e8" stroke-width="0.8"/>
<line x1="298.2" y1="282.10" x2="398.7" y2="282.10" stroke="#e8e8e8" stroke-width="0.8"/>
<clipPath id="c11"><rect x="297.9" y="253.3" width="101.1" height="82.80000000000001"/></clipPath>
<path d="M298.20,334.89 L298.70,334.89 L299.20,334.88 L299.71,334.87 L300.21,334.86 L300.71,334.85 L301.21,334.83 L301.72,334.81 L302.22,334.78 L302.72,334.75 L303.22,334.71 L303.73,334.67 L304.23,334.61 L304.73,334.55 L305.24,334.48 L305.74,334.40 L306.24,334.31 L306.74,334.20 L307.25,334.09 L307.75,333.96 L308.25,333.81 L308.75,333.64 L309.25,333.46 L309.76,333.26 L310.26,333.04 L310.76,332.80 L311.26,332.53 L311.77,332.24 L312.27,331.93 L312.77,331.59 L313.27,331.22 L313.78,330.82 L314.28,330.39 L314.78,329.93 L315.28,329.44 L315.54,329.18 L315.79,328.92 L316.04,328.64 L316.29,328.36 L316.54,328.07 L316.79,327.76 L317.04,327.45 L317.29,327.13 L317.55,326.81 L317.80,326.47 L318.05,326.12 L318.30,325.76 L318.55,325.40 L318.80,325.02 L319.05,324.64 L319.31,324.24 L319.56,323.83 L319.81,323.42 L320.06,323.00 L320.31,322.56 L320.56,322.12 L320.81,321.66 L321.06,321.20 L321.31,320.72 L321.57,320.24 L321.82,319.75 L322.07,319.24 L322.32,318.73 L322.57,318.21 L322.82,317.68 L323.07,317.14 L323.32,316.58 L323.58,316.02 L323.83,315.45 L324.08,314.88 L324.33,314.29 L324.58,313.69 L324.83,313.09 L325.08,312.47 L325.33,311.85 L325.59,311.22 L325.84,310.58 L326.09,309.93 L326.34,309.28 L326.59,308.62 L326.84,307.95 L327.09,307.27 L327.34,306.59 L327.60,305.90 L327.85,305.20 L328.10,304.50 L328.35,303.79 L328.60,303.08 L328.85,302.36 L329.10,301.63 L329.35,300.90 L329.61,300.17 L329.86,299.43 L330.11,298.69 L330.36,297.95 L330.61,297.20 L330.86,296.45 L331.11,295.70 L331.37,294.94 L331.62,294.18 L331.87,293.43 L332.12,292.67 L332.37,291.91 L332.62,291.15 L332.87,290.39 L333.12,289.63 L333.38,288.87 L333.63,288.12 L333.88,287.36 L334.13,286.61 L334.38,285.86 L334.63,285.12 L334.88,284.38 L335.13,283.64 L335.38,282.91 L335.64,282.18 L335.89,281.45 L336.14,280.73 L336.39,280.02 L336.64,279.32 L336.89,278.62 L337.14,277.93 L337.39,277.25 L337.65,276.57 L337.90,275.91 L338.15,275.25 L338.40,274.60 L338.65,273.96 L338.90,273.34 L339.15,272.72 L339.40,272.12 L339.66,271.52 L339.91,270.94 L340.16,270.37 L340.41,269.81 L340.66,269.27 L340.91,268.74 L341.16,268.22 L341.41,267.72 L341.67,267.23 L341.92,266.76 L342.17,266.30 L342.42,265.86 L342.67,265.43 L342.92,265.02 L343.17,264.62 L343.43,264.24 L343.68,263.88 L343.93,263.54 L344.18,263.21 L344.43,262.90 L344.68,262.61 L344.93,262.33 L345.18,262.08 L345.69,261.62 L346.19,261.23 L346.69,260.93 L347.19,260.69 L347.70,260.54 L348.20,260.46 L348.70,260.46 L349.20,260.54 L349.71,260.69 L350.21,260.93 L350.71,261.23 L351.21,261.62 L351.72,262.08 L351.97,262.33 L352.22,262.61 L352.47,262.90 L352.72,263.21 L352.97,263.54 L353.22,263.88 L353.47,264.24 L353.73,264.62 L353.98,265.02 L354.23,265.43 L354.48,265.86 L354.73,266.30 L354.98,266.76 L355.23,267.23 L355.49,267.72 L355.74,268.22 L355.99,268.74 L356.24,269.27 L356.49,269.81 L356.74,270.37 L356.99,270.94 L357.24,271.52 L357.50,272.12 L357.75,272.72 L358.00,273.34 L358.25,273.96 L358.50,274.60 L358.75,275.25 L359.00,275.91 L359.25,276.57 L359.50,277.25 L359.76,277.93 L360.01,278.62 L360.26,279.32 L360.51,280.02 L360.76,280.73 L361.01,281.45 L361.26,282.18 L361.51,282.91 L361.77,283.64 L362.02,284.38 L362.27,285.12 L362.52,285.86 L362.77,286.61 L363.02,287.36 L363.27,288.12 L363.52,288.87 L363.78,289.63 L364.03,290.39 L364.28,291.15 L364.53,291.91 L364.78,292.67 L365.03,293.43 L365.28,294.18 L365.53,294.94 L365.79,295.70 L366.04,296.45 L366.29,297.20 L366.54,297.95 L366.79,298.69 L367.04,299.43 L367.29,300.17 L367.55,300.90 L367.80,301.63 L368.05,302.36 L368.30,303.08 L368.55,303.79 L368.80,304.50 L369.05,305.20 L369.30,305.90 L369.56,306.59 L369.81,307.27 L370.06,307.95 L370.31,308.62 L370.56,309.28 L370.81,309.93 L371.06,310.58 L371.31,311.22 L371.56,311.85 L371.82,312.47 L372.07,313.09 L372.32,313.69 L372.57,314.29 L372.82,314.88 L373.07,315.45 L373.32,316.02 L373.57,316.58 L373.83,317.14 L374.08,317.68 L374.33,318.21 L374.58,318.73 L374.83,319.24 L375.08,319.75 L375.33,320.24 L375.58,320.72 L375.84,321.20 L376.09,321.66 L376.34,322.12 L376.59,322.56 L376.84,323.00 L377.09,323.42 L377.34,323.83 L377.59,324.24 L377.85,324.64 L378.10,325.02 L378.35,325.40 L378.60,325.76 L378.85,326.12 L379.10,326.47 L379.35,326.81 L379.61,327.13 L379.86,327.45 L380.11,327.76 L380.36,328.07 L380.61,328.36 L380.86,328.64 L381.11,328.92 L381.36,329.18 L381.62,329.44 L381.87,329.69 L382.37,330.17 L382.87,330.61 L383.37,331.02 L383.88,331.41 L384.38,331.76 L384.88,332.09 L385.38,332.39 L385.89,332.67 L386.39,332.92 L386.89,333.15 L387.39,333.36 L387.90,333.56 L388.40,333.73 L388.90,333.88 L389.40,334.02 L389.91,334.15 L390.41,334.26 L390.91,334.36 L391.41,334.44 L391.92,334.52 L392.42,334.58 L392.92,334.64 L393.42,334.69 L393.93,334.73 L394.43,334.77 L394.93,334.80 L395.43,334.82 L395.94,334.84 L396.44,334.86 L396.94,334.87 L397.44,334.88 L397.95,334.89 L398.45,334.89 L398.70,334.89" fill="none" stroke="#ff0000" stroke-width="1.6" stroke-linejoin="round" stroke-linecap="round" clip-path="url(#c11)"/>
<rect x="298.2" y="255.3" width="100.50" height="79.30" fill="none" stroke="#7f7f7f" stroke-width="0.9"/>
<line x1="298.20" y1="334.6" x2="298.20" y2="333.6" stroke="#7f7f7f" stroke-width="0.8"/>
<line x1="298.20" y1="255.3" x2="298.20" y2="256.3" stroke="#7f7f7f" stroke-width="0.8"/>
<line x1="323.32" y1="334.6" x2="323.32" y2="333.6" stroke="#7f7f7f" stroke-width="0.8"/>
<line x1="323.32" y1="255.3" x2="323.32" y2="256.3" stroke="#7f7f7f" stroke-width="0.8"/>
<line x1="348.45" y1="334.6" x2="348.45" y2="333.6" stroke="#7f7f7f" stroke-width="0.8"/>
<line x1="348.45" y1="255.3" x2="348.45" y2="256.3" stroke="#7f7f7f" stroke-width="0.8"/>
<line x1="373.57" y1="334.6" x2="373.57" y2="333.6" stroke="#7f7f7f" stroke-width="0.8"/>
<line x1="373.57" y1="255.3" x2="373.57" y2="256.3" stroke="#7f7f7f" stroke-width="0.8"/>
<line x1="398.70" y1="334.6" x2="398.70" y2="333.6" stroke="#7f7f7f" stroke-width="0.8"/>
<line x1="398.70" y1="255.3" x2="398.70" y2="256.3" stroke="#7f7f7f" stroke-width="0.8"/>
<line x1="298.2" y1="308.50" x2="299.2" y2="308.50" stroke="#7f7f7f" stroke-width="0.8"/>
<line x1="398.7" y1="308.50" x2="397.7" y2="308.50" stroke="#7f7f7f" stroke-width="0.8"/>
<line x1="298.2" y1="282.10" x2="299.2" y2="282.10" stroke="#7f7f7f" stroke-width="0.8"/>
<line x1="398.7" y1="282.10" x2="397.7" y2="282.10" stroke="#7f7f7f" stroke-width="0.8"/>
<line x1="298.2" y1="255.70" x2="299.2" y2="255.70" stroke="#7f7f7f" stroke-width="0.8"/>
<line x1="398.7" y1="255.70" x2="397.7" y2="255.70" stroke="#7f7f7f" stroke-width="0.8"/>
<text x="298.20" y="345.00" font-size="7.3" text-anchor="middle">-0.1</text>
<text x="323.32" y="345.00" font-size="7.3" text-anchor="middle">-0.05</text>
<text x="348.45" y="345.00" font-size="7.3" text-anchor="middle">0</text>
<text x="373.57" y="345.00" font-size="7.3" text-anchor="middle">0.05</text>
<text x="398.70" y="345.00" font-size="7.3" text-anchor="middle">0.1</text>
<text x="295.60" y="337.90" font-size="7.3" text-anchor="end">0</text>
<text x="295.60" y="311.50" font-size="7.3" text-anchor="end">2</text>
<text x="295.60" y="285.10" font-size="7.3" text-anchor="end">4</text>
<text x="295.60" y="258.70" font-size="7.3" text-anchor="end">6</text>
<text x="348.45" y="251.90" font-size="8.5" text-anchor="middle">1D Orbital TIF PSD</text>
<text x="348.45" y="356.50" font-size="8.0" text-anchor="middle">mm<tspan font-size="5.7" dy="-3.1">-1</tspan></text>
<text x="288.30" y="294.95" font-size="8.0" text-anchor="middle" xml:space="preserve" transform="rotate(-90 288.30 294.95)">nm<tspan font-size="6.5" dy="-3.5">2</tspan><tspan dy="3.5">mm  /sec</tspan><tspan font-size="6.5" dy="-3.5">2</tspan></text>
<line x1="463.90" y1="255.3" x2="463.90" y2="334.6" stroke="#e8e8e8" stroke-width="0.8"/>
<line x1="497.50" y1="255.3" x2="497.50" y2="334.6" stroke="#e8e8e8" stroke-width="0.8"/>
<line x1="430.3" y1="318.80" x2="531.3" y2="318.80" stroke="#e8e8e8" stroke-width="0.8"/>
<line x1="430.3" y1="302.80" x2="531.3" y2="302.80" stroke="#e8e8e8" stroke-width="0.8"/>
<line x1="430.3" y1="286.80" x2="531.3" y2="286.80" stroke="#e8e8e8" stroke-width="0.8"/>
<line x1="430.3" y1="270.80" x2="531.3" y2="270.80" stroke="#e8e8e8" stroke-width="0.8"/>
<clipPath id="c12"><rect x="430.0" y="253.3" width="101.59999999999994" height="82.80000000000001"/></clipPath>
<path d="M430.30,334.80 L430.64,334.37 L430.97,333.94 L431.31,333.52 L431.64,333.09 L431.98,332.66 L432.32,332.23 L432.65,331.80 L432.99,331.38 L433.32,330.95 L433.66,330.52 L434.00,330.09 L434.33,329.67 L434.67,329.24 L435.00,328.81 L435.34,328.39 L435.68,327.96 L436.01,327.53 L436.35,327.11 L436.68,326.68 L437.02,326.26 L437.36,325.83 L437.69,325.41 L438.03,324.99 L438.36,324.56 L438.70,324.14 L439.04,323.72 L439.37,323.29 L439.71,322.87 L440.04,322.45 L440.38,322.03 L440.72,321.61 L441.05,321.19 L441.39,320.77 L441.72,320.35 L442.06,319.94 L442.40,319.52 L442.73,319.10 L443.07,318.69 L443.40,318.27 L443.74,317.86 L444.08,317.44 L444.41,317.03 L444.75,316.62 L445.08,316.21 L445.42,315.79 L445.76,315.38 L446.09,314.98 L446.43,314.57 L446.76,314.16 L447.10,313.75 L447.44,313.35 L447.77,312.94 L448.11,312.54 L448.44,312.13 L448.78,311.73 L449.12,311.33 L449.45,310.93 L449.79,310.53 L450.12,310.13 L450.46,309.73 L450.80,309.34 L451.13,308.94 L451.47,308.54 L451.80,308.15 L452.14,307.76 L452.48,307.37 L452.81,306.98 L453.15,306.59 L453.48,306.20 L453.82,305.81 L454.16,305.43 L454.49,305.04 L454.83,304.66 L455.16,304.28 L455.50,303.89 L455.84,303.51 L456.17,303.14 L456.51,302.76 L456.84,302.38 L457.18,302.01 L457.52,301.63 L457.85,301.26 L458.19,300.89 L458.52,300.52 L458.86,300.15 L459.20,299.78 L459.53,299.42 L459.87,299.05 L460.20,298.69 L460.54,298.33 L460.88,297.97 L461.21,297.61 L461.55,297.25 L461.88,296.89 L462.22,296.54 L462.56,296.19 L462.89,295.83 L463.23,295.48 L463.56,295.13 L463.90,294.79 L464.24,294.44 L464.57,294.10 L464.91,293.75 L465.24,293.41 L465.58,293.07 L465.92,292.73 L466.25,292.39 L466.59,292.06 L466.92,291.72 L467.26,291.39 L467.60,291.06 L467.93,290.73 L468.27,290.40 L468.60,290.08 L468.94,289.75 L469.28,289.43 L469.61,289.11 L469.95,288.79 L470.28,288.47 L470.62,288.15 L470.96,287.84 L471.29,287.53 L471.63,287.22 L471.96,286.91 L472.30,286.60 L472.64,286.29 L472.97,285.99 L473.31,285.68 L473.64,285.38 L473.98,285.08 L474.32,284.78 L474.65,284.49 L474.99,284.19 L475.32,283.90 L475.66,283.61 L476.00,283.32 L476.33,283.03 L476.67,282.74 L477.00,282.46 L477.34,282.17 L477.68,281.89 L478.01,281.61 L478.35,281.34 L478.68,281.06 L479.02,280.78 L479.36,280.51 L479.69,280.24 L480.03,279.97 L480.36,279.70 L480.70,279.44 L481.04,279.18 L481.37,278.91 L481.71,278.65 L482.04,278.39 L482.38,278.14 L482.72,277.88 L483.05,277.63 L483.39,277.38 L483.72,277.13 L484.06,276.88 L484.40,276.63 L484.73,276.39 L485.07,276.14 L485.40,275.90 L485.74,275.66 L486.08,275.43 L486.41,275.19 L486.75,274.96 L487.08,274.72 L487.42,274.49 L487.76,274.26 L488.09,274.04 L488.43,273.81 L488.76,273.59 L489.10,273.36 L489.44,273.14 L489.77,272.93 L490.11,272.71 L490.44,272.49 L490.78,272.28 L491.12,272.07 L491.45,271.86 L491.79,271.65 L492.12,271.44 L492.46,271.24 L492.80,271.04 L493.13,270.83 L493.47,270.63 L493.80,270.44 L494.14,270.24 L494.48,270.04 L494.81,269.85 L495.15,269.66 L495.48,269.47 L495.82,269.28 L496.16,269.10 L496.49,268.91 L496.83,268.73 L497.16,268.55 L497.50,268.37 L497.84,268.19 L498.17,268.01 L498.51,267.84 L498.84,267.66 L499.18,267.49 L499.52,267.32 L499.85,267.15 L500.19,266.99 L500.52,266.82 L500.86,266.66 L501.20,266.50 L501.53,266.34 L501.87,266.18 L502.20,266.02 L502.54,265.86 L502.88,265.71 L503.21,265.56 L503.55,265.41 L503.88,265.26 L504.22,265.11 L504.56,264.96 L504.89,264.82 L505.23,264.67 L505.56,264.53 L505.90,264.39 L506.24,264.25 L506.57,264.11 L506.91,263.98 L507.24,263.84 L507.58,263.71 L507.92,263.58 L508.25,263.45 L508.59,263.32 L508.92,263.19 L509.26,263.06 L509.60,262.94 L509.93,262.81 L510.27,262.69 L510.60,262.57 L510.94,262.45 L511.28,262.33 L511.61,262.22 L511.95,262.10 L512.28,261.99 L512.62,261.88 L512.96,261.77 L513.29,261.66 L513.63,261.55 L513.96,261.44 L514.30,261.33 L514.64,261.23 L514.97,261.13 L515.31,261.02 L515.64,260.92 L515.98,260.82 L516.32,260.72 L516.82,260.58 L517.32,260.44 L517.83,260.30 L518.33,260.16 L518.84,260.02 L519.34,259.89 L519.84,259.76 L520.35,259.64 L520.85,259.51 L521.36,259.39 L521.86,259.27 L522.36,259.15 L522.87,259.04 L523.37,258.93 L523.88,258.82 L524.38,258.71 L524.72,258.64" fill="none" stroke="#000000" stroke-width="1.6" stroke-linejoin="round" stroke-linecap="round" clip-path="url(#c12)"/>
<rect x="430.3" y="255.3" width="101.00" height="79.30" fill="none" stroke="#7f7f7f" stroke-width="0.9"/>
<line x1="430.30" y1="334.6" x2="430.30" y2="333.6" stroke="#7f7f7f" stroke-width="0.8"/>
<line x1="430.30" y1="255.3" x2="430.30" y2="256.3" stroke="#7f7f7f" stroke-width="0.8"/>
<line x1="463.90" y1="334.6" x2="463.90" y2="333.6" stroke="#7f7f7f" stroke-width="0.8"/>
<line x1="463.90" y1="255.3" x2="463.90" y2="256.3" stroke="#7f7f7f" stroke-width="0.8"/>
<line x1="497.50" y1="334.6" x2="497.50" y2="333.6" stroke="#7f7f7f" stroke-width="0.8"/>
<line x1="497.50" y1="255.3" x2="497.50" y2="256.3" stroke="#7f7f7f" stroke-width="0.8"/>
<line x1="531.10" y1="334.6" x2="531.10" y2="333.6" stroke="#7f7f7f" stroke-width="0.8"/>
<line x1="531.10" y1="255.3" x2="531.10" y2="256.3" stroke="#7f7f7f" stroke-width="0.8"/>
<line x1="430.3" y1="318.80" x2="431.3" y2="318.80" stroke="#7f7f7f" stroke-width="0.8"/>
<line x1="531.3" y1="318.80" x2="530.3" y2="318.80" stroke="#7f7f7f" stroke-width="0.8"/>
<line x1="430.3" y1="302.80" x2="431.3" y2="302.80" stroke="#7f7f7f" stroke-width="0.8"/>
<line x1="531.3" y1="302.80" x2="530.3" y2="302.80" stroke="#7f7f7f" stroke-width="0.8"/>
<line x1="430.3" y1="286.80" x2="431.3" y2="286.80" stroke="#7f7f7f" stroke-width="0.8"/>
<line x1="531.3" y1="286.80" x2="530.3" y2="286.80" stroke="#7f7f7f" stroke-width="0.8"/>
<line x1="430.3" y1="270.80" x2="431.3" y2="270.80" stroke="#7f7f7f" stroke-width="0.8"/>
<line x1="531.3" y1="270.80" x2="530.3" y2="270.80" stroke="#7f7f7f" stroke-width="0.8"/>
<text x="430.30" y="345.00" font-size="7.3" text-anchor="middle">0</text>
<text x="463.90" y="345.00" font-size="7.3" text-anchor="middle">0.02</text>
<text x="497.50" y="345.00" font-size="7.3" text-anchor="middle">0.04</text>
<text x="531.10" y="345.00" font-size="7.3" text-anchor="middle">0.06</text>
<text x="427.70" y="337.80" font-size="7.3" text-anchor="end">0</text>
<text x="427.70" y="321.80" font-size="7.3" text-anchor="end">20</text>
<text x="427.70" y="305.80" font-size="7.3" text-anchor="end">40</text>
<text x="427.70" y="289.80" font-size="7.3" text-anchor="end">60</text>
<text x="427.70" y="273.80" font-size="7.3" text-anchor="end">80</text>
<text x="427.70" y="257.80" font-size="7.3" text-anchor="end">100</text>
<text x="482.10" y="251.90" font-size="8.5" text-anchor="middle">IP of the Orbital TIF</text>
<text x="480.80" y="356.50" font-size="8.0" text-anchor="middle">mm<tspan font-size="5.7" dy="-3.1">-1</tspan></text>
<text x="413.00" y="302.80" font-size="8.0" text-anchor="middle" transform="rotate(-90 413.00 302.80)">%</text>
<line x1="430.30" y1="261.36" x2="524.72" y2="261.36" stroke="#ff0000" stroke-width="1.1" stroke-dasharray="3.2 2.2"/>
<line x1="514.30" y1="334.60" x2="514.30" y2="261.36" stroke="#ff0000" stroke-width="1.1" stroke-dasharray="3.2 2.2"/>
<circle cx="514.30" cy="261.36" r="2.4" fill="#ff0000"/>
<text x="449.10" y="315.40" font-size="7.6" text-anchor="start" word-spacing="0.8">(0.05 mm<tspan font-size="5.2" dy="-3.0">-1</tspan><tspan dy="3.0">, 91.8%)</tspan></text>
<line x1="480.50" y1="305.30" x2="510.19" y2="268.96" stroke="#000" stroke-width="1.2"/>
<path d="M513.10,265.40 L511.74,270.23 L508.64,267.70 Z" fill="#000"/></svg></body></html>
